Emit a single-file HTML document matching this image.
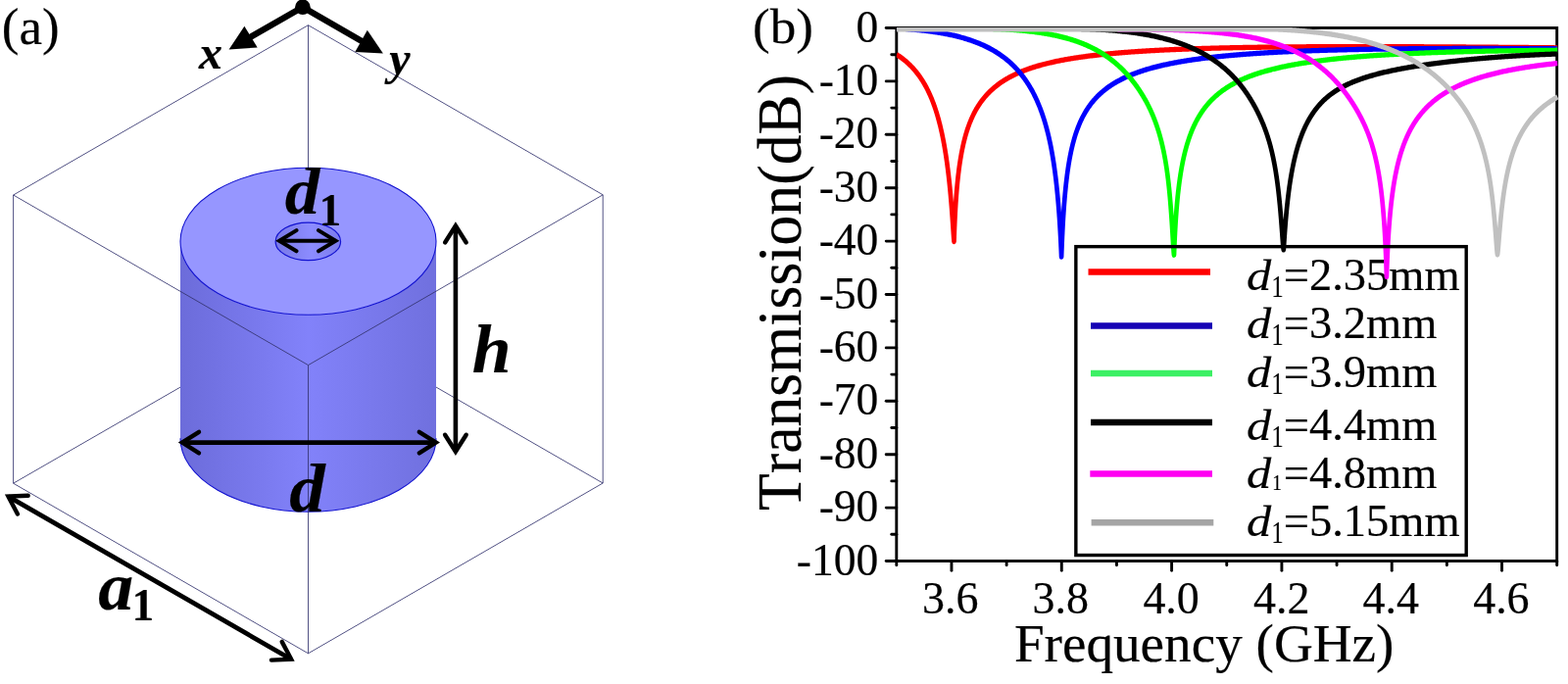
<!DOCTYPE html>
<html lang="en"><head><meta charset="utf-8"><title>Figure</title>
<style>html,body{margin:0;padding:0;background:#fff;}body{width:1600px;height:698px;overflow:hidden;}svg{display:block;}text{font-family:"Liberation Serif","Times New Roman",serif;fill:#000;font-kerning:none;font-variant-ligatures:none;white-space:pre;}.bi{font-weight:bold;font-style:italic;}.b{font-weight:bold;}.i{font-style:italic;}</style></head><body>
<svg width="1600" height="698" viewBox="0 0 1600 698">
<rect width="1600" height="698" fill="#ffffff"/>
<defs>
<linearGradient id="side" x1="0" y1="0" x2="1" y2="0"><stop offset="0" stop-color="#6c6cda"/><stop offset="0.5" stop-color="#8282fa"/><stop offset="1" stop-color="#7070de"/></linearGradient>
<linearGradient id="hole" x1="0" y1="0" x2="1" y2="0"><stop offset="0" stop-color="#7878e6"/><stop offset="0.55" stop-color="#8c8cff"/><stop offset="1" stop-color="#7c7cec"/></linearGradient>
<clipPath id="plotclip"><rect x="914.80" y="28.1" width="675.30" height="544"/></clipPath>
</defs>
<g stroke="#34346f" stroke-width="1.0" stroke-opacity="0.85" fill="none">
<line x1="314.5" y1="25.7" x2="314.5" y2="320.0" />
<line x1="13.6" y1="493.2" x2="314.5" y2="320.0" />
<line x1="615.2" y1="493.0" x2="314.5" y2="320.0" />
</g>
<path d="M184.00,246.30 L184.00,447.20 A130.50,75.00 0 0 0 445.00,447.20 L445.00,246.30 A130.50,75.00 0 0 1 184.00,246.30 Z" fill="url(#side)"/>
<path d="M184.00,447.20 A130.50,75.00 0 0 0 445.00,447.20" fill="none" stroke="#1212d0" stroke-width="1.1"/>
<ellipse cx="314.50" cy="246.30" rx="130.50" ry="75.00" fill="#9696ff" stroke="#1212d0" stroke-width="1.1"/>
<ellipse cx="314.35" cy="246.4" rx="33.2" ry="19.3" fill="url(#hole)" stroke="#1212d0" stroke-width="1.2"/>
<g stroke="#34346f" stroke-width="1.0" stroke-opacity="0.85" fill="none">
<line x1="314.5" y1="25.7" x2="13.6" y2="199.0" />
<line x1="314.5" y1="25.7" x2="615.2" y2="198.8" />
<line x1="13.6" y1="199.0" x2="314.5" y2="372.6" />
<line x1="615.2" y1="198.8" x2="314.5" y2="372.6" />
<line x1="13.6" y1="199.0" x2="13.6" y2="493.2" />
<line x1="615.2" y1="198.8" x2="615.2" y2="493.0" />
<line x1="314.5" y1="372.6" x2="314.5" y2="666.8" />
<line x1="13.6" y1="493.2" x2="314.5" y2="666.8" />
<line x1="615.2" y1="493.0" x2="314.5" y2="666.8" />
</g>
<g stroke="#000" stroke-width="6.3" stroke-linecap="butt">
<line x1="308.9" y1="7.2" x2="254" y2="38.7"/>
<line x1="308.9" y1="7.2" x2="370" y2="42.4"/>
</g>
<circle cx="308.9" cy="7.2" r="7.8" fill="#000"/>
<polygon points="233.6,50.4 249.4,26.8 262.7,48.5" fill="#000"/>
<polygon points="390.9,54.5 374.8,30.8 362.3,53" fill="#000"/>
<line x1="284.97" y1="245.70" x2="342.53" y2="245.70" stroke="#000" stroke-width="4.0" stroke-linecap="butt"/><polyline points="302.50,256.30 284.97,245.70 302.50,235.10" fill="none" stroke="#000" stroke-width="4.0" stroke-linecap="round" stroke-linejoin="miter" stroke-miterlimit="10"/><polyline points="325.00,256.30 342.53,245.70 325.00,235.10" fill="none" stroke="#000" stroke-width="4.0" stroke-linecap="round" stroke-linejoin="miter" stroke-miterlimit="10"/>
<line x1="185.92" y1="451.60" x2="444.88" y2="451.60" stroke="#000" stroke-width="4.6" stroke-linecap="butt"/><polyline points="203.00,462.40 185.92,451.60 203.00,440.80" fill="none" stroke="#000" stroke-width="4.4" stroke-linecap="round" stroke-linejoin="miter" stroke-miterlimit="10"/><polyline points="427.80,462.40 444.88,451.60 427.80,440.80" fill="none" stroke="#000" stroke-width="4.4" stroke-linecap="round" stroke-linejoin="miter" stroke-miterlimit="10"/>
<line x1="464.90" y1="230.42" x2="464.90" y2="460.78" stroke="#000" stroke-width="4.6" stroke-linecap="butt"/><polyline points="454.10,247.50 464.90,230.42 475.70,247.50" fill="none" stroke="#000" stroke-width="4.4" stroke-linecap="round" stroke-linejoin="miter" stroke-miterlimit="10"/><polyline points="454.10,443.70 464.90,460.78 475.70,443.70" fill="none" stroke="#000" stroke-width="4.4" stroke-linecap="round" stroke-linejoin="miter" stroke-miterlimit="10"/>
<line x1="8.47" y1="506.65" x2="297.13" y2="672.75" stroke="#000" stroke-width="4.8" stroke-linecap="butt"/><polyline points="17.89,524.53 8.47,506.65 28.66,505.81" fill="none" stroke="#000" stroke-width="4.4" stroke-linecap="round" stroke-linejoin="miter" stroke-miterlimit="10"/><polyline points="276.94,673.59 297.13,672.75 287.71,654.87" fill="none" stroke="#000" stroke-width="4.4" stroke-linecap="round" stroke-linejoin="miter" stroke-miterlimit="10"/>
<text transform="translate(1.87 44.90)" font-size="53.00" stroke="#000" stroke-width="0.20">(a)</text>
<text transform="translate(202.89 70.40)" font-size="48.00" class="bi" stroke="#000" stroke-width="0.20">x</text>
<text transform="translate(397.20 75.80)" font-size="48.00" class="bi" stroke="#000" stroke-width="0.20">y</text>
<text transform="translate(290.77 218.40) scale(1.0600 1.0000)" font-size="67.00" class="bi" stroke="#000" stroke-width="0.20">d</text>
<text transform="translate(325.83 229.50) scale(0.9600 1.0000)" font-size="46.50" class="b" stroke="#000" stroke-width="0.20">1</text>
<text transform="translate(481.80 379.60) scale(1.0300 1.0000)" font-size="69.50" class="bi" stroke="#000" stroke-width="0.20">h</text>
<text transform="translate(295.14 522.10) scale(1.0500 1.0000)" font-size="69.50" class="bi" stroke="#000" stroke-width="0.20">d</text>
<text transform="translate(100.16 622.00) scale(1.0400 1.0000)" font-size="69.00" class="bi" stroke="#000" stroke-width="0.20">a</text>
<text transform="translate(134.73 632.50) scale(0.9700 1.0000)" font-size="46.00" class="b" stroke="#000" stroke-width="0.20">1</text>
<text transform="translate(767.97 44.45) scale(1.0350 1.0000)" font-size="51.30" stroke="#000" stroke-width="0.20">(b)</text>
<g stroke="#000" fill="none" stroke-linecap="round">
<rect x="914.80" y="28.50" width="673.90" height="544.00" stroke-width="2.9" stroke-linejoin="miter"/>
<line x1="904.20" y1="28.50" x2="914.80" y2="28.50" stroke-width="2.9"/>
<line x1="909.80" y1="55.70" x2="914.80" y2="55.70" stroke-width="2.9"/>
<line x1="904.20" y1="82.90" x2="914.80" y2="82.90" stroke-width="2.9"/>
<line x1="909.80" y1="110.10" x2="914.80" y2="110.10" stroke-width="2.9"/>
<line x1="904.20" y1="137.30" x2="914.80" y2="137.30" stroke-width="2.9"/>
<line x1="909.80" y1="164.50" x2="914.80" y2="164.50" stroke-width="2.9"/>
<line x1="904.20" y1="191.70" x2="914.80" y2="191.70" stroke-width="2.9"/>
<line x1="909.80" y1="218.90" x2="914.80" y2="218.90" stroke-width="2.9"/>
<line x1="904.20" y1="246.10" x2="914.80" y2="246.10" stroke-width="2.9"/>
<line x1="909.80" y1="273.30" x2="914.80" y2="273.30" stroke-width="2.9"/>
<line x1="904.20" y1="300.50" x2="914.80" y2="300.50" stroke-width="2.9"/>
<line x1="909.80" y1="327.70" x2="914.80" y2="327.70" stroke-width="2.9"/>
<line x1="904.20" y1="354.90" x2="914.80" y2="354.90" stroke-width="2.9"/>
<line x1="909.80" y1="382.10" x2="914.80" y2="382.10" stroke-width="2.9"/>
<line x1="904.20" y1="409.30" x2="914.80" y2="409.30" stroke-width="2.9"/>
<line x1="909.80" y1="436.50" x2="914.80" y2="436.50" stroke-width="2.9"/>
<line x1="904.20" y1="463.70" x2="914.80" y2="463.70" stroke-width="2.9"/>
<line x1="909.80" y1="490.90" x2="914.80" y2="490.90" stroke-width="2.9"/>
<line x1="904.20" y1="518.10" x2="914.80" y2="518.10" stroke-width="2.9"/>
<line x1="909.80" y1="545.30" x2="914.80" y2="545.30" stroke-width="2.9"/>
<line x1="904.20" y1="572.50" x2="914.80" y2="572.50" stroke-width="2.9"/>
<line x1="914.80" y1="572.50" x2="914.80" y2="576.70" stroke-width="2.9"/>
<line x1="970.96" y1="572.50" x2="970.96" y2="582.30" stroke-width="2.9"/>
<line x1="1027.12" y1="572.50" x2="1027.12" y2="576.70" stroke-width="2.9"/>
<line x1="1083.28" y1="572.50" x2="1083.28" y2="582.30" stroke-width="2.9"/>
<line x1="1139.43" y1="572.50" x2="1139.43" y2="576.70" stroke-width="2.9"/>
<line x1="1195.59" y1="572.50" x2="1195.59" y2="582.30" stroke-width="2.9"/>
<line x1="1251.75" y1="572.50" x2="1251.75" y2="576.70" stroke-width="2.9"/>
<line x1="1307.91" y1="572.50" x2="1307.91" y2="582.30" stroke-width="2.9"/>
<line x1="1364.07" y1="572.50" x2="1364.07" y2="576.70" stroke-width="2.9"/>
<line x1="1420.22" y1="572.50" x2="1420.22" y2="582.30" stroke-width="2.9"/>
<line x1="1476.38" y1="572.50" x2="1476.38" y2="576.70" stroke-width="2.9"/>
<line x1="1532.54" y1="572.50" x2="1532.54" y2="582.30" stroke-width="2.9"/>
<line x1="1588.70" y1="572.50" x2="1588.70" y2="576.70" stroke-width="2.9"/>
</g>
<text transform="translate(873.56 42.50) scale(1.0120 1.0200)" font-size="45.00" stroke="#000" stroke-width="0.20">0</text>
<text transform="translate(835.63 96.90) scale(1.0120 1.0200)" font-size="45.00" stroke="#000" stroke-width="0.20">-10</text>
<text transform="translate(835.63 151.30) scale(1.0120 1.0200)" font-size="45.00" stroke="#000" stroke-width="0.20">-20</text>
<text transform="translate(835.63 205.70) scale(1.0120 1.0200)" font-size="45.00" stroke="#000" stroke-width="0.20">-30</text>
<text transform="translate(835.63 260.10) scale(1.0120 1.0200)" font-size="45.00" stroke="#000" stroke-width="0.20">-40</text>
<text transform="translate(835.63 314.50) scale(1.0120 1.0200)" font-size="45.00" stroke="#000" stroke-width="0.20">-50</text>
<text transform="translate(835.63 368.90) scale(1.0120 1.0200)" font-size="45.00" stroke="#000" stroke-width="0.20">-60</text>
<text transform="translate(835.63 423.30) scale(1.0120 1.0200)" font-size="45.00" stroke="#000" stroke-width="0.20">-70</text>
<text transform="translate(835.63 477.70) scale(1.0120 1.0200)" font-size="45.00" stroke="#000" stroke-width="0.20">-80</text>
<text transform="translate(835.63 532.10) scale(1.0120 1.0200)" font-size="45.00" stroke="#000" stroke-width="0.20">-90</text>
<text transform="translate(812.86 586.50) scale(1.0120 1.0200)" font-size="45.00" stroke="#000" stroke-width="0.20">-100</text>
<text transform="translate(940.93 626.00) scale(1.0210 1.0500)" font-size="45.00" stroke="#000" stroke-width="0.20">3.6</text>
<text transform="translate(1053.44 626.00) scale(1.0210 1.0500)" font-size="45.00" stroke="#000" stroke-width="0.20">3.8</text>
<text transform="translate(1166.40 626.00) scale(1.0210 1.0500)" font-size="45.00" stroke="#000" stroke-width="0.20">4.0</text>
<text transform="translate(1279.11 626.00) scale(1.0210 1.0500)" font-size="45.00" stroke="#000" stroke-width="0.20">4.2</text>
<text transform="translate(1390.52 626.00) scale(1.0210 1.0500)" font-size="45.00" stroke="#000" stroke-width="0.20">4.4</text>
<text transform="translate(1503.16 626.00) scale(1.0210 1.0500)" font-size="45.00" stroke="#000" stroke-width="0.20">4.6</text>
<text transform="translate(1034.91 675.30) scale(1.0030 1.0000)" font-size="55.00" stroke="#000" stroke-width="0.20">Frequency (GHz)</text>
<text transform="translate(817.10 521.01) rotate(-90) scale(1.0057 1.0200)" font-size="61.30" stroke="#000" stroke-width="0.20">Transmission(dB)</text>
<line x1="1110.5" y1="277.6" x2="1235.0" y2="277.6" stroke="#ff0000" stroke-width="6.5"/>
<text transform="translate(1272.07 295.90) scale(1.1200 1.0000)" font-size="45.00" class="i" stroke="#000" stroke-width="0.20">d</text>
<text transform="translate(1297.47 302.60) scale(0.7800 1.0000)" font-size="31.00" stroke="#000" stroke-width="0.20">1</text>
<text transform="translate(1309.79 295.90) scale(1.0210 1.0000)" font-size="45.50" stroke="#000" stroke-width="0.20">=2.35mm</text>
<line x1="1113.0" y1="332.4" x2="1237.0" y2="332.4" stroke="#1400b4" stroke-width="6.5"/>
<text transform="translate(1272.07 345.30) scale(1.1200 1.0000)" font-size="45.00" class="i" stroke="#000" stroke-width="0.20">d</text>
<text transform="translate(1297.47 352.00) scale(0.7800 1.0000)" font-size="31.00" stroke="#000" stroke-width="0.20">1</text>
<text transform="translate(1309.79 345.30) scale(1.0210 1.0000)" font-size="45.50" stroke="#000" stroke-width="0.20">=3.2mm</text>
<line x1="1113.0" y1="381.0" x2="1237.0" y2="381.0" stroke="#3cf064" stroke-width="6.5"/>
<text transform="translate(1272.07 395.20) scale(1.1200 1.0000)" font-size="45.00" class="i" stroke="#000" stroke-width="0.20">d</text>
<text transform="translate(1297.47 401.90) scale(0.7800 1.0000)" font-size="31.00" stroke="#000" stroke-width="0.20">1</text>
<text transform="translate(1309.79 395.20) scale(1.0210 1.0000)" font-size="45.50" stroke="#000" stroke-width="0.20">=3.9mm</text>
<line x1="1113.0" y1="431.0" x2="1237.0" y2="431.0" stroke="#000000" stroke-width="6.5"/>
<text transform="translate(1272.07 448.90) scale(1.1200 1.0000)" font-size="45.00" class="i" stroke="#000" stroke-width="0.20">d</text>
<text transform="translate(1297.47 455.60) scale(0.7800 1.0000)" font-size="31.00" stroke="#000" stroke-width="0.20">1</text>
<text transform="translate(1309.79 448.90) scale(1.0210 1.0000)" font-size="45.50" stroke="#000" stroke-width="0.20">=4.4mm</text>
<line x1="1112.3" y1="483.5" x2="1237.0" y2="483.5" stroke="#ff00f2" stroke-width="6.5"/>
<text transform="translate(1272.07 497.90) scale(1.1200 1.0000)" font-size="45.00" class="i" stroke="#000" stroke-width="0.20">d</text>
<text transform="translate(1298.31 500.10) scale(0.8000 1.0000)" font-size="24.00" stroke="#000" stroke-width="0.20">1</text>
<text transform="translate(1309.79 497.90) scale(1.0210 1.0000)" font-size="45.50" stroke="#000" stroke-width="0.20">=4.8mm</text>
<line x1="1113.6" y1="533.3" x2="1238.3" y2="533.3" stroke="#a5a5a5" stroke-width="6.5"/>
<text transform="translate(1272.07 547.30) scale(1.1200 1.0000)" font-size="45.00" class="i" stroke="#000" stroke-width="0.20">d</text>
<text transform="translate(1297.47 554.00) scale(0.7800 1.0000)" font-size="31.00" stroke="#000" stroke-width="0.20">1</text>
<text transform="translate(1309.79 547.30) scale(1.0210 1.0000)" font-size="45.50" stroke="#000" stroke-width="0.20">=5.15mm</text>
<g clip-path="url(#plotclip)"><g fill="none" stroke-width="4.7" stroke-linejoin="round" stroke-linecap="butt" transform="scale(1 1.12766)">
<path d="M914.80,49.35 L915.50,49.74 L916.50,50.31 L917.50,50.90 L918.50,51.51 L919.50,52.14 L920.50,52.79 L921.50,53.46 L922.50,54.16 L923.50,54.88 L924.50,55.62 L925.50,56.39 L926.50,57.18 L927.50,58.01 L928.50,58.86 L929.50,59.74 L930.50,60.66 L931.50,61.60 L932.50,62.59 L933.50,63.61 L933.90,64.03 L934.30,64.45 L934.70,64.88 L935.10,65.32 L935.50,65.76 L935.90,66.21 L936.30,66.67 L936.70,67.14 L937.10,67.61 L937.50,68.09 L937.90,68.58 L938.30,69.07 L938.70,69.58 L939.10,70.09 L939.50,70.61 L939.90,71.14 L940.30,71.67 L940.70,72.22 L941.10,72.77 L941.50,73.34 L941.90,73.91 L942.30,74.50 L942.70,75.09 L943.10,75.69 L943.50,76.31 L943.90,76.93 L944.30,77.57 L944.70,78.22 L945.10,78.87 L945.50,79.55 L945.90,80.23 L946.30,80.92 L946.70,81.63 L947.10,82.36 L947.50,83.09 L947.90,83.84 L948.30,84.61 L948.70,85.38 L949.10,86.18 L949.50,86.99 L949.90,87.82 L950.30,88.66 L950.70,89.52 L951.10,90.40 L951.50,91.30 L951.90,92.21 L952.30,93.15 L952.70,94.10 L953.10,95.08 L953.50,96.08 L953.90,97.10 L954.30,98.15 L954.70,99.22 L955.10,100.31 L955.50,101.43 L955.90,102.58 L956.30,103.75 L956.70,104.95 L957.10,106.19 L957.50,107.45 L957.90,108.75 L958.30,110.09 L958.70,111.46 L959.10,112.86 L959.50,114.31 L959.90,115.79 L960.30,117.32 L960.70,118.89 L961.10,120.52 L961.50,122.19 L961.65,122.82 L961.80,123.47 L961.95,124.13 L962.10,124.79 L962.25,125.46 L962.40,126.14 L962.55,126.82 L962.70,127.52 L962.85,128.22 L963.00,128.93 L963.15,129.65 L963.30,130.38 L963.45,131.12 L963.60,131.87 L963.75,132.63 L963.90,133.40 L964.05,134.17 L964.20,134.96 L964.35,135.76 L964.50,136.57 L964.65,137.39 L964.80,138.23 L964.95,139.07 L965.10,139.92 L965.25,140.79 L965.40,141.67 L965.55,142.57 L965.70,143.47 L965.85,144.39 L966.00,145.32 L966.15,146.27 L966.30,147.23 L966.45,148.21 L966.60,149.20 L966.75,150.21 L966.90,151.23 L967.05,152.27 L967.20,153.32 L967.35,154.40 L967.50,155.49 L967.65,156.60 L967.80,157.73 L967.95,158.87 L968.10,160.04 L968.25,161.23 L968.40,162.44 L968.55,163.67 L968.70,164.92 L968.85,166.20 L969.00,167.49 L969.15,168.82 L969.30,170.17 L969.45,171.54 L969.60,172.94 L969.75,174.37 L969.90,175.82 L970.05,177.31 L970.20,178.82 L970.35,180.36 L970.50,181.94 L970.55,182.47 L970.60,183.01 L970.65,183.55 L970.70,184.09 L970.75,184.64 L970.80,185.19 L970.85,185.74 L970.90,186.30 L970.95,186.86 L971.00,187.42 L971.05,187.99 L971.10,188.56 L971.15,189.14 L971.20,189.72 L971.25,190.30 L971.30,190.89 L971.35,191.48 L971.40,192.08 L971.45,192.68 L971.50,193.28 L971.55,193.89 L971.60,194.50 L971.65,195.11 L971.70,195.73 L971.75,196.35 L971.80,196.97 L971.85,197.60 L971.90,198.23 L971.95,198.87 L972.00,199.51 L972.05,200.15 L972.10,200.79 L972.15,201.44 L972.20,202.09 L972.25,202.74 L972.30,203.40 L972.35,204.06 L972.40,204.72 L972.45,205.38 L972.50,206.04 L972.55,206.71 L972.60,207.37 L972.65,208.04 L972.70,208.70 L972.75,209.37 L972.80,210.03 L972.85,210.69 L972.90,211.35 L972.95,212.00 L973.00,212.66 L973.05,213.30 L973.10,213.94 L973.15,214.57 L973.20,215.19 L973.25,215.80 L973.30,216.40 L973.35,216.98 L973.40,217.55 L973.45,218.09 L973.50,218.59 L973.55,217.24 L973.60,215.87 L973.65,214.54 L973.70,213.25 L973.75,211.99 L973.80,210.76 L973.85,209.56 L973.90,208.40 L973.95,207.26 L974.00,206.15 L974.05,205.06 L974.10,204.00 L974.15,202.96 L974.20,201.94 L974.25,200.95 L974.30,199.97 L974.35,199.02 L974.40,198.08 L974.45,197.17 L974.50,196.27 L974.55,195.38 L974.60,194.52 L974.65,193.67 L974.70,192.83 L974.75,192.01 L974.80,191.20 L974.85,190.41 L974.90,189.63 L974.95,188.87 L975.00,188.11 L975.05,187.37 L975.10,186.64 L975.15,185.92 L975.20,185.22 L975.25,184.52 L975.30,183.83 L975.35,183.16 L975.40,182.49 L975.45,181.83 L975.50,181.19 L975.55,180.55 L975.60,179.92 L975.65,179.30 L975.70,178.69 L975.75,178.08 L975.80,177.48 L975.85,176.90 L975.90,176.32 L975.95,175.74 L976.00,175.18 L976.05,174.62 L976.10,174.06 L976.15,173.52 L976.20,172.98 L976.25,172.45 L976.30,171.92 L976.35,171.40 L976.40,170.89 L976.45,170.38 L976.50,169.87 L976.65,168.40 L976.80,166.97 L976.95,165.59 L977.10,164.25 L977.25,162.95 L977.40,161.69 L977.55,160.46 L977.70,159.27 L977.85,158.11 L978.00,156.98 L978.15,155.88 L978.30,154.81 L978.45,153.76 L978.60,152.74 L978.75,151.74 L978.90,150.77 L979.05,149.82 L979.20,148.89 L979.35,147.98 L979.50,147.09 L979.65,146.21 L979.80,145.36 L979.95,144.52 L980.10,143.71 L980.25,142.90 L980.40,142.12 L980.55,141.34 L980.70,140.59 L980.85,139.84 L981.00,139.11 L981.15,138.39 L981.30,137.69 L981.45,137.00 L981.60,136.32 L981.75,135.65 L981.90,134.99 L982.05,134.35 L982.20,133.71 L982.35,133.08 L982.50,132.47 L982.65,131.86 L982.80,131.27 L982.95,130.68 L983.10,130.10 L983.25,129.53 L983.40,128.97 L983.55,128.41 L983.70,127.87 L983.85,127.33 L984.00,126.80 L984.15,126.28 L984.30,125.76 L984.45,125.25 L984.60,124.75 L984.75,124.26 L984.90,123.77 L985.05,123.29 L985.20,122.81 L985.35,122.34 L985.50,121.88 L985.90,120.67 L986.30,119.50 L986.70,118.37 L987.10,117.27 L987.50,116.21 L987.90,115.18 L988.30,114.17 L988.70,113.20 L989.10,112.25 L989.50,111.33 L989.90,110.43 L990.30,109.56 L990.70,108.70 L991.10,107.87 L991.50,107.06 L991.90,106.27 L992.30,105.50 L992.70,104.75 L993.10,104.01 L993.50,103.29 L993.90,102.58 L994.30,101.90 L994.70,101.22 L995.10,100.56 L995.50,99.92 L995.90,99.28 L996.30,98.66 L996.70,98.06 L997.10,97.46 L997.50,96.88 L997.90,96.31 L998.30,95.74 L998.70,95.19 L999.10,94.65 L999.50,94.12 L999.90,93.60 L1000.30,93.09 L1000.70,92.58 L1001.10,92.09 L1001.50,91.60 L1001.90,91.13 L1002.30,90.66 L1002.70,90.20 L1003.10,89.74 L1003.50,89.29 L1003.90,88.85 L1004.30,88.42 L1004.70,88.00 L1005.10,87.58 L1005.50,87.16 L1005.90,86.76 L1006.30,86.36 L1006.70,85.96 L1007.10,85.58 L1007.50,85.19 L1007.90,84.82 L1008.30,84.44 L1008.70,84.08 L1009.10,83.72 L1009.50,83.36 L1009.90,83.01 L1010.30,82.66 L1010.70,82.32 L1011.10,81.99 L1011.50,81.65 L1011.90,81.33 L1012.30,81.00 L1012.70,80.68 L1013.10,80.37 L1013.50,80.06 L1014.50,79.30 L1015.50,78.56 L1016.50,77.85 L1017.50,77.16 L1018.50,76.49 L1019.50,75.83 L1020.50,75.20 L1021.50,74.58 L1022.50,73.99 L1023.50,73.40 L1024.50,72.84 L1025.50,72.29 L1026.50,71.75 L1027.50,71.23 L1028.50,70.72 L1029.50,70.22 L1030.50,69.74 L1031.50,69.26 L1032.50,68.80 L1033.50,68.35 L1034.50,67.91 L1035.50,67.48 L1036.50,67.06 L1037.50,66.65 L1038.50,66.25 L1039.50,65.86 L1040.50,65.48 L1041.50,65.10 L1042.50,64.74 L1043.50,64.38 L1044.50,64.03 L1045.50,63.68 L1046.50,63.35 L1047.50,63.02 L1048.50,62.70 L1049.50,62.38 L1050.50,62.07 L1051.50,61.77 L1052.50,61.47 L1053.50,61.18 L1054.50,60.89 L1055.50,60.61 L1056.50,60.33 L1057.50,60.06 L1058.50,59.80 L1059.50,59.54 L1060.50,59.28 L1061.50,59.03 L1062.50,58.79 L1063.50,58.55 L1064.50,58.31 L1065.50,58.08 L1066.50,57.85 L1067.50,57.62 L1068.50,57.40 L1069.50,57.18 L1070.50,56.97 L1071.50,56.76 L1072.50,56.56 L1073.50,56.35 L1074.50,56.16 L1075.50,55.96 L1076.50,55.77 L1077.50,55.58 L1078.50,55.39 L1079.50,55.21 L1080.50,55.03 L1081.50,54.86 L1082.50,54.68 L1083.50,54.51 L1084.50,54.34 L1085.50,54.18 L1086.50,54.01 L1087.50,53.85 L1088.50,53.69 L1089.50,53.54 L1090.50,53.39 L1091.50,53.23 L1092.50,53.09 L1093.50,52.94 L1094.50,52.80 L1095.50,52.65 L1096.50,52.51 L1097.50,52.38 L1098.50,52.24 L1099.50,52.11 L1100.50,51.97 L1101.50,51.84 L1102.50,51.72 L1103.50,51.59 L1104.50,51.47 L1105.50,51.34 L1106.50,51.22 L1107.50,51.10 L1108.50,50.99 L1109.50,50.87 L1110.50,50.76 L1111.50,50.64 L1112.50,50.53 L1113.50,50.42 L1114.50,50.32 L1115.50,50.21 L1116.50,50.10 L1117.50,50.00 L1118.50,49.90 L1119.50,49.80 L1120.50,49.70 L1121.50,49.60 L1122.50,49.50 L1123.50,49.41 L1124.50,49.31 L1125.50,49.22 L1126.50,49.13 L1127.50,49.04 L1128.50,48.95 L1129.50,48.86 L1130.50,48.77 L1131.50,48.69 L1132.50,48.60 L1133.50,48.52 L1134.50,48.44 L1135.50,48.35 L1136.50,48.27 L1137.50,48.19 L1138.50,48.12 L1139.50,48.04 L1140.50,47.96 L1141.50,47.89 L1142.50,47.81 L1143.50,47.74 L1144.50,47.66 L1145.50,47.59 L1146.50,47.52 L1147.50,47.45 L1148.50,47.38 L1149.50,47.31 L1150.50,47.25 L1151.50,47.18 L1152.50,47.11 L1153.50,47.05 L1154.50,46.98 L1155.50,46.92 L1156.50,46.86 L1157.50,46.80 L1158.50,46.74 L1159.50,46.67 L1160.50,46.62 L1161.50,46.56 L1162.50,46.50 L1163.50,46.44 L1164.50,46.38 L1165.50,46.33 L1166.50,46.27 L1167.50,46.22 L1168.50,46.16 L1169.50,46.11 L1170.50,46.06 L1171.50,46.00 L1172.50,45.95 L1173.50,45.90 L1174.50,45.85 L1175.50,45.80 L1176.50,45.75 L1177.50,45.70 L1178.50,45.66 L1179.50,45.61 L1180.50,45.56 L1181.50,45.51 L1182.50,45.47 L1183.50,45.42 L1184.50,45.38 L1185.50,45.33 L1186.50,45.29 L1187.50,45.25 L1188.50,45.20 L1189.50,45.16 L1190.50,45.12 L1191.50,45.08 L1192.50,45.04 L1193.50,45.00 L1194.50,44.96 L1195.50,44.92 L1196.50,44.88 L1197.50,44.84 L1198.50,44.80 L1199.50,44.77 L1200.50,44.73 L1201.50,44.69 L1202.50,44.66 L1203.50,44.62 L1204.50,44.59 L1205.50,44.55 L1206.50,44.52 L1207.50,44.48 L1208.50,44.45 L1209.50,44.42 L1210.50,44.38 L1211.50,44.35 L1212.50,44.32 L1213.50,44.29 L1214.50,44.25 L1215.50,44.22 L1216.50,44.19 L1217.50,44.16 L1218.50,44.13 L1219.50,44.10 L1220.50,44.07 L1221.50,44.04 L1222.50,44.02 L1223.50,43.99 L1224.50,43.96 L1225.50,43.93 L1226.50,43.91 L1227.50,43.88 L1228.50,43.85 L1229.50,43.83 L1230.50,43.80 L1231.50,43.77 L1232.50,43.75 L1233.50,43.72 L1234.50,43.70 L1235.50,43.68 L1236.50,43.65 L1237.50,43.63 L1238.50,43.60 L1239.50,43.58 L1240.50,43.56 L1241.50,43.54 L1242.50,43.51 L1243.50,43.49 L1244.50,43.47 L1245.50,43.45 L1246.50,43.43 L1247.50,43.40 L1248.50,43.38 L1249.50,43.36 L1250.50,43.34 L1251.50,43.32 L1252.50,43.30 L1253.50,43.28 L1254.50,43.27 L1255.50,43.25 L1256.50,43.23 L1257.50,43.21 L1258.50,43.19 L1259.50,43.17 L1260.50,43.15 L1261.50,43.14 L1262.50,43.12 L1263.50,43.10 L1264.50,43.09 L1265.50,43.07 L1266.50,43.05 L1267.50,43.04 L1268.50,43.02 L1269.50,43.00 L1270.50,42.99 L1271.50,42.97 L1272.50,42.96 L1273.50,42.94 L1274.50,42.93 L1275.50,42.91 L1276.50,42.90 L1277.50,42.89 L1278.50,42.87 L1279.50,42.86 L1280.50,42.84 L1281.50,42.83 L1282.50,42.82 L1283.50,42.80 L1284.50,42.79 L1285.50,42.78 L1286.50,42.77 L1287.50,42.75 L1288.50,42.74 L1289.50,42.73 L1290.50,42.72 L1291.50,42.71 L1292.50,42.70 L1293.50,42.68 L1294.50,42.67 L1295.50,42.66 L1296.50,42.65 L1297.50,42.64 L1298.50,42.63 L1299.50,42.62 L1300.50,42.61 L1301.50,42.60 L1302.50,42.59 L1303.50,42.58 L1304.50,42.57 L1305.50,42.56 L1306.50,42.55 L1307.50,42.54 L1308.50,42.54 L1309.50,42.53 L1310.50,42.52 L1311.50,42.51 L1312.50,42.50 L1313.50,42.49 L1314.50,42.49 L1315.50,42.48 L1316.50,42.47 L1317.50,42.46 L1318.50,42.46 L1319.50,42.45 L1320.50,42.44 L1321.50,42.43 L1322.50,42.43 L1323.50,42.42 L1324.50,42.41 L1325.50,42.41 L1326.50,42.40 L1327.50,42.39 L1328.50,42.39 L1329.50,42.38 L1330.50,42.38 L1331.50,42.37 L1332.50,42.37 L1333.50,42.36 L1334.50,42.35 L1335.50,42.35 L1336.50,42.34 L1337.50,42.34 L1338.50,42.33 L1339.50,42.33 L1340.50,42.33 L1341.50,42.32 L1342.50,42.32 L1343.50,42.31 L1344.50,42.31 L1345.50,42.30 L1346.50,42.30 L1347.50,42.30 L1348.50,42.29 L1349.50,42.29 L1350.50,42.29 L1351.50,42.28 L1352.50,42.28 L1353.50,42.28 L1354.50,42.27 L1355.50,42.27 L1356.50,42.27 L1357.50,42.26 L1358.50,42.26 L1359.50,42.26 L1360.50,42.26 L1361.50,42.25 L1362.50,42.25 L1363.50,42.25 L1364.50,42.25 L1365.50,42.24 L1366.50,42.24 L1367.50,42.24 L1368.50,42.24 L1369.50,42.24 L1370.50,42.24 L1371.50,42.23 L1372.50,42.23 L1373.50,42.23 L1374.50,42.23 L1375.50,42.23 L1376.50,42.23 L1377.50,42.23 L1378.50,42.23 L1379.50,42.23 L1380.50,42.23 L1381.50,42.22 L1382.50,42.22 L1383.50,42.22 L1384.50,42.22 L1385.50,42.22 L1386.50,42.22 L1387.50,42.22 L1388.50,42.22 L1389.50,42.22 L1390.50,42.22 L1391.50,42.22 L1392.50,42.22 L1393.50,42.22 L1394.50,42.22 L1395.50,42.23 L1396.50,42.23 L1397.50,42.23 L1398.50,42.23 L1399.50,42.23 L1400.50,42.23 L1401.50,42.23 L1402.50,42.23 L1403.50,42.23 L1404.50,42.23 L1405.50,42.23 L1406.50,42.24 L1407.50,42.24 L1408.50,42.24 L1409.50,42.24 L1410.50,42.24 L1411.50,42.24 L1412.50,42.25 L1413.50,42.25 L1414.50,42.25 L1415.50,42.25 L1416.50,42.25 L1417.50,42.25 L1418.50,42.26 L1419.50,42.26 L1420.50,42.26 L1421.50,42.26 L1422.50,42.27 L1423.50,42.27 L1424.50,42.27 L1425.50,42.27 L1426.50,42.28 L1427.50,42.28 L1428.50,42.28 L1429.50,42.28 L1430.50,42.29 L1431.50,42.29 L1432.50,42.29 L1433.50,42.30 L1434.50,42.30 L1435.50,42.30 L1436.50,42.31 L1437.50,42.31 L1438.50,42.31 L1439.50,42.32 L1440.50,42.32 L1441.50,42.32 L1442.50,42.33 L1443.50,42.33 L1444.50,42.33 L1445.50,42.34 L1446.50,42.34 L1447.50,42.34 L1448.50,42.35 L1449.50,42.35 L1450.50,42.36 L1451.50,42.36 L1452.50,42.36 L1453.50,42.37 L1454.50,42.37 L1455.50,42.38 L1456.50,42.38 L1457.50,42.39 L1458.50,42.39 L1459.50,42.39 L1460.50,42.40 L1461.50,42.40 L1462.50,42.41 L1463.50,42.41 L1464.50,42.42 L1465.50,42.42 L1466.50,42.43 L1467.50,42.43 L1468.50,42.44 L1469.50,42.44 L1470.50,42.45 L1471.50,42.45 L1472.50,42.46 L1473.50,42.46 L1474.50,42.47 L1475.50,42.47 L1476.50,42.48 L1477.50,42.48 L1478.50,42.49 L1479.50,42.49 L1480.50,42.50 L1481.50,42.50 L1482.50,42.51 L1483.50,42.51 L1484.50,42.52 L1485.50,42.52 L1486.50,42.53 L1487.50,42.54 L1488.50,42.54 L1489.50,42.55 L1490.50,42.55 L1491.50,42.56 L1492.50,42.56 L1493.50,42.57 L1494.50,42.58 L1495.50,42.58 L1496.50,42.59 L1497.50,42.59 L1498.50,42.60 L1499.50,42.61 L1500.50,42.61 L1501.50,42.62 L1502.50,42.62 L1503.50,42.63 L1504.50,42.64 L1505.50,42.64 L1506.50,42.65 L1507.50,42.66 L1508.50,42.66 L1509.50,42.67 L1510.50,42.68 L1511.50,42.68 L1512.50,42.69 L1513.50,42.70 L1514.50,42.70 L1515.50,42.71 L1516.50,42.72 L1517.50,42.72 L1518.50,42.73 L1519.50,42.74 L1520.50,42.74 L1521.50,42.75 L1522.50,42.76 L1523.50,42.76 L1524.50,42.77 L1525.50,42.78 L1526.50,42.78 L1527.50,42.79 L1528.50,42.80 L1529.50,42.81 L1530.50,42.81 L1531.50,42.82 L1532.50,42.83 L1533.50,42.83 L1534.50,42.84 L1535.50,42.85 L1536.50,42.86 L1537.50,42.86 L1538.50,42.87 L1539.50,42.88 L1540.50,42.89 L1541.50,42.89 L1542.50,42.90 L1543.50,42.91 L1544.50,42.92 L1545.50,42.92 L1546.50,42.93 L1547.50,42.94 L1548.50,42.95 L1549.50,42.95 L1550.50,42.96 L1551.50,42.97 L1552.50,42.98 L1553.50,42.99 L1554.50,42.99 L1555.50,43.00 L1556.50,43.01 L1557.50,43.02 L1558.50,43.02 L1559.50,43.03 L1560.50,43.04 L1561.50,43.05 L1562.50,43.06 L1563.50,43.06 L1564.50,43.07 L1565.50,43.08 L1566.50,43.09 L1567.50,43.10 L1568.50,43.11 L1569.50,43.11 L1570.50,43.12 L1571.50,43.13 L1572.50,43.14 L1573.50,43.15 L1574.50,43.15 L1575.50,43.16 L1576.50,43.17 L1577.50,43.18 L1578.50,43.19 L1579.50,43.20 L1580.50,43.21 L1581.50,43.21 L1582.50,43.22 L1583.50,43.23 L1584.50,43.24 L1585.50,43.25 L1586.50,43.26 L1587.50,43.26 L1588.50,43.27 L1589.30,43.28" stroke="#ff0000"/>
<path d="M914.80,25.76 L915.10,25.76 L916.10,25.76 L917.10,25.76 L918.10,25.76 L919.10,25.76 L920.10,25.76 L921.10,25.76 L922.10,25.76 L923.10,25.76 L924.10,25.76 L925.10,26.27 L926.10,26.33 L927.10,26.40 L928.10,26.46 L929.10,26.52 L930.10,26.59 L931.10,26.66 L932.10,26.73 L933.10,26.81 L934.10,26.88 L935.10,26.96 L936.10,27.04 L937.10,27.13 L938.10,27.21 L939.10,27.30 L940.10,27.39 L941.10,27.49 L942.10,27.58 L943.10,27.68 L944.10,27.78 L945.10,27.89 L946.10,27.99 L947.10,28.10 L948.10,28.21 L949.10,28.33 L950.10,28.45 L951.10,28.57 L952.10,28.69 L953.10,28.82 L954.10,28.95 L955.10,29.08 L956.10,29.22 L957.10,29.36 L958.10,29.50 L959.10,29.65 L960.10,29.80 L961.10,29.95 L962.10,30.11 L963.10,30.27 L964.10,30.44 L965.10,30.61 L966.10,30.78 L967.10,30.96 L968.10,31.14 L969.10,31.32 L970.10,31.51 L971.10,31.71 L972.10,31.91 L973.10,32.11 L974.10,32.32 L975.10,32.53 L976.10,32.74 L977.10,32.97 L978.10,33.19 L979.10,33.42 L980.10,33.66 L981.10,33.90 L982.10,34.15 L983.10,34.40 L984.10,34.66 L985.10,34.93 L986.10,35.20 L987.10,35.48 L988.10,35.76 L989.10,36.05 L990.10,36.35 L991.10,36.65 L992.10,36.96 L993.10,37.27 L994.10,37.60 L995.10,37.93 L996.10,38.27 L997.10,38.61 L998.10,38.97 L999.10,39.33 L1000.10,39.70 L1001.10,40.08 L1002.10,40.47 L1003.10,40.86 L1004.10,41.27 L1005.10,41.68 L1006.10,42.11 L1007.10,42.54 L1008.10,42.99 L1009.10,43.44 L1010.10,43.91 L1011.10,44.39 L1012.10,44.88 L1013.10,45.38 L1014.10,45.89 L1015.10,46.42 L1016.10,46.96 L1017.10,47.51 L1018.10,48.07 L1019.10,48.65 L1020.10,49.25 L1021.10,49.86 L1022.10,50.48 L1023.10,51.12 L1024.10,51.78 L1025.10,52.45 L1026.10,53.15 L1027.10,53.86 L1028.10,54.59 L1029.10,55.34 L1030.10,56.11 L1031.10,56.90 L1032.10,57.71 L1033.10,58.55 L1034.10,59.41 L1035.10,60.30 L1036.10,61.21 L1037.10,62.15 L1038.10,63.11 L1039.10,64.11 L1040.10,65.14 L1041.10,66.19 L1042.10,67.29 L1043.10,68.41 L1043.50,68.87 L1043.90,69.34 L1044.30,69.81 L1044.70,70.29 L1045.10,70.78 L1045.50,71.27 L1045.90,71.77 L1046.30,72.27 L1046.70,72.78 L1047.10,73.30 L1047.50,73.83 L1047.90,74.36 L1048.30,74.90 L1048.70,75.45 L1049.10,76.00 L1049.50,76.57 L1049.90,77.14 L1050.30,77.72 L1050.70,78.31 L1051.10,78.91 L1051.50,79.51 L1051.90,80.13 L1052.30,80.75 L1052.70,81.38 L1053.10,82.03 L1053.50,82.68 L1053.90,83.34 L1054.30,84.02 L1054.70,84.70 L1055.10,85.39 L1055.50,86.10 L1055.90,86.82 L1056.30,87.55 L1056.70,88.29 L1057.10,89.04 L1057.50,89.81 L1057.90,90.59 L1058.30,91.38 L1058.70,92.19 L1059.10,93.01 L1059.50,93.84 L1059.90,94.69 L1060.30,95.56 L1060.70,96.44 L1061.10,97.34 L1061.50,98.26 L1061.90,99.19 L1062.30,100.15 L1062.70,101.12 L1063.10,102.11 L1063.50,103.12 L1063.90,104.16 L1064.30,105.21 L1064.70,106.29 L1065.10,107.39 L1065.50,108.52 L1065.90,109.67 L1066.30,110.85 L1066.70,112.06 L1067.10,113.30 L1067.50,114.56 L1067.90,115.86 L1068.30,117.19 L1068.70,118.56 L1069.10,119.96 L1069.50,121.40 L1069.90,122.88 L1070.30,124.41 L1070.70,125.97 L1071.10,127.58 L1071.25,128.20 L1071.40,128.83 L1071.55,129.46 L1071.70,130.10 L1071.85,130.74 L1072.00,131.40 L1072.15,132.06 L1072.30,132.73 L1072.45,133.41 L1072.60,134.09 L1072.75,134.79 L1072.90,135.49 L1073.05,136.20 L1073.20,136.93 L1073.35,137.66 L1073.50,138.40 L1073.65,139.15 L1073.80,139.91 L1073.95,140.68 L1074.10,141.46 L1074.25,142.25 L1074.40,143.06 L1074.55,143.87 L1074.70,144.70 L1074.85,145.54 L1075.00,146.39 L1075.15,147.25 L1075.30,148.13 L1075.45,149.02 L1075.60,149.92 L1075.75,150.84 L1075.90,151.77 L1076.05,152.72 L1076.20,153.68 L1076.35,154.66 L1076.50,155.66 L1076.65,156.67 L1076.80,157.70 L1076.95,158.75 L1077.10,159.82 L1077.25,160.90 L1077.40,162.01 L1077.55,163.14 L1077.70,164.29 L1077.85,165.46 L1078.00,166.65 L1078.15,167.87 L1078.30,169.11 L1078.45,170.38 L1078.60,171.68 L1078.75,173.00 L1078.90,174.35 L1079.05,175.74 L1079.20,177.15 L1079.35,178.60 L1079.50,180.08 L1079.65,181.60 L1079.80,183.16 L1079.95,184.75 L1080.10,186.39 L1080.15,186.95 L1080.20,187.51 L1080.25,188.07 L1080.30,188.64 L1080.35,189.22 L1080.40,189.80 L1080.45,190.38 L1080.50,190.98 L1080.55,191.57 L1080.60,192.18 L1080.65,192.78 L1080.70,193.40 L1080.75,194.02 L1080.80,194.64 L1080.85,195.28 L1080.90,195.92 L1080.95,196.56 L1081.00,197.21 L1081.05,197.87 L1081.10,198.53 L1081.15,199.21 L1081.20,199.88 L1081.25,200.57 L1081.30,201.26 L1081.35,201.96 L1081.40,202.67 L1081.45,203.39 L1081.50,204.11 L1081.55,204.84 L1081.60,205.58 L1081.65,206.33 L1081.70,207.09 L1081.75,207.85 L1081.80,208.63 L1081.85,209.41 L1081.90,210.20 L1081.95,211.00 L1082.00,211.81 L1082.05,212.63 L1082.10,213.46 L1082.15,214.30 L1082.20,215.16 L1082.25,216.02 L1082.30,216.89 L1082.35,217.77 L1082.40,218.66 L1082.45,219.57 L1082.50,220.49 L1082.55,221.41 L1082.60,222.35 L1082.65,223.31 L1082.70,224.27 L1082.75,225.24 L1082.80,226.23 L1082.85,227.23 L1082.90,228.24 L1082.95,229.27 L1083.00,230.30 L1083.05,231.35 L1083.10,232.43 L1083.15,231.20 L1083.20,229.98 L1083.25,228.78 L1083.30,227.60 L1083.35,226.43 L1083.40,225.29 L1083.45,224.16 L1083.50,223.06 L1083.55,221.97 L1083.60,220.90 L1083.65,219.84 L1083.70,218.80 L1083.75,217.78 L1083.80,216.77 L1083.85,215.78 L1083.90,214.81 L1083.95,213.85 L1084.00,212.90 L1084.05,211.97 L1084.10,211.05 L1084.15,210.15 L1084.20,209.25 L1084.25,208.38 L1084.30,207.51 L1084.35,206.66 L1084.40,205.81 L1084.45,204.98 L1084.50,204.16 L1084.55,203.36 L1084.60,202.56 L1084.65,201.77 L1084.70,201.00 L1084.75,200.23 L1084.80,199.47 L1084.85,198.73 L1084.90,197.99 L1084.95,197.26 L1085.00,196.55 L1085.05,195.84 L1085.10,195.13 L1085.15,194.44 L1085.20,193.76 L1085.25,193.08 L1085.30,192.42 L1085.35,191.76 L1085.40,191.10 L1085.45,190.46 L1085.50,189.82 L1085.55,189.19 L1085.60,188.57 L1085.65,187.95 L1085.70,187.34 L1085.75,186.74 L1085.80,186.14 L1085.85,185.55 L1085.90,184.97 L1085.95,184.39 L1086.00,183.82 L1086.05,183.26 L1086.10,182.70 L1086.25,181.06 L1086.40,179.46 L1086.55,177.92 L1086.70,176.42 L1086.85,174.96 L1087.00,173.54 L1087.15,172.15 L1087.30,170.81 L1087.45,169.50 L1087.60,168.23 L1087.75,166.98 L1087.90,165.77 L1088.05,164.59 L1088.20,163.43 L1088.35,162.30 L1088.50,161.20 L1088.65,160.12 L1088.80,159.07 L1088.95,158.04 L1089.10,157.03 L1089.25,156.05 L1089.40,155.08 L1089.55,154.14 L1089.70,153.22 L1089.85,152.31 L1090.00,151.42 L1090.15,150.55 L1090.30,149.70 L1090.45,148.86 L1090.60,148.04 L1090.75,147.23 L1090.90,146.44 L1091.05,145.67 L1091.20,144.91 L1091.35,144.16 L1091.50,143.42 L1091.65,142.70 L1091.80,141.99 L1091.95,141.30 L1092.10,140.61 L1092.25,139.94 L1092.40,139.27 L1092.55,138.62 L1092.70,137.98 L1092.85,137.35 L1093.00,136.73 L1093.15,136.12 L1093.30,135.52 L1093.45,134.92 L1093.60,134.34 L1093.75,133.76 L1093.90,133.20 L1094.05,132.64 L1094.20,132.09 L1094.35,131.54 L1094.50,131.01 L1094.65,130.48 L1094.80,129.96 L1094.95,129.45 L1095.10,128.94 L1095.50,127.62 L1095.90,126.34 L1096.30,125.11 L1096.70,123.92 L1097.10,122.77 L1097.50,121.65 L1097.90,120.56 L1098.30,119.51 L1098.70,118.49 L1099.10,117.50 L1099.50,116.53 L1099.90,115.59 L1100.30,114.68 L1100.70,113.79 L1101.10,112.92 L1101.50,112.07 L1101.90,111.25 L1102.30,110.45 L1102.70,109.66 L1103.10,108.89 L1103.50,108.14 L1103.90,107.41 L1104.30,106.70 L1104.70,106.00 L1105.10,105.31 L1105.50,104.64 L1105.90,103.98 L1106.30,103.34 L1106.70,102.71 L1107.10,102.09 L1107.50,101.49 L1107.90,100.90 L1108.30,100.32 L1108.70,99.74 L1109.10,99.19 L1109.50,98.64 L1109.90,98.10 L1110.30,97.57 L1110.70,97.05 L1111.10,96.54 L1111.50,96.04 L1111.90,95.54 L1112.30,95.06 L1112.70,94.58 L1113.10,94.11 L1113.50,93.65 L1113.90,93.20 L1114.30,92.75 L1114.70,92.31 L1115.10,91.88 L1115.50,91.46 L1115.90,91.04 L1116.30,90.63 L1116.70,90.22 L1117.10,89.82 L1117.50,89.43 L1117.90,89.04 L1118.30,88.66 L1118.70,88.28 L1119.10,87.91 L1119.50,87.54 L1119.90,87.18 L1120.30,86.82 L1120.70,86.47 L1121.10,86.13 L1121.50,85.79 L1121.90,85.45 L1122.30,85.12 L1122.70,84.79 L1123.10,84.46 L1124.10,83.67 L1125.10,82.91 L1126.10,82.17 L1127.10,81.45 L1128.10,80.75 L1129.10,80.07 L1130.10,79.41 L1131.10,78.77 L1132.10,78.15 L1133.10,77.55 L1134.10,76.96 L1135.10,76.39 L1136.10,75.83 L1137.10,75.29 L1138.10,74.76 L1139.10,74.24 L1140.10,73.74 L1141.10,73.25 L1142.10,72.77 L1143.10,72.30 L1144.10,71.84 L1145.10,71.40 L1146.10,70.96 L1147.10,70.53 L1148.10,70.12 L1149.10,69.71 L1150.10,69.31 L1151.10,68.92 L1152.10,68.54 L1153.10,68.16 L1154.10,67.80 L1155.10,67.44 L1156.10,67.09 L1157.10,66.75 L1158.10,66.41 L1159.10,66.08 L1160.10,65.75 L1161.10,65.44 L1162.10,65.13 L1163.10,64.82 L1164.10,64.52 L1165.10,64.23 L1166.10,63.94 L1167.10,63.65 L1168.10,63.38 L1169.10,63.10 L1170.10,62.83 L1171.10,62.57 L1172.10,62.31 L1173.10,62.06 L1174.10,61.81 L1175.10,61.56 L1176.10,61.32 L1177.10,61.08 L1178.10,60.85 L1179.10,60.62 L1180.10,60.39 L1181.10,60.17 L1182.10,59.95 L1183.10,59.74 L1184.10,59.53 L1185.10,59.32 L1186.10,59.11 L1187.10,58.91 L1188.10,58.71 L1189.10,58.52 L1190.10,58.33 L1191.10,58.14 L1192.10,57.95 L1193.10,57.77 L1194.10,57.59 L1195.10,57.41 L1196.10,57.23 L1197.10,57.06 L1198.10,56.89 L1199.10,56.72 L1200.10,56.56 L1201.10,56.39 L1202.10,56.23 L1203.10,56.07 L1204.10,55.92 L1205.10,55.76 L1206.10,55.61 L1207.10,55.46 L1208.10,55.32 L1209.10,55.17 L1210.10,55.03 L1211.10,54.89 L1212.10,54.75 L1213.10,54.61 L1214.10,54.47 L1215.10,54.34 L1216.10,54.21 L1217.10,54.08 L1218.10,53.95 L1219.10,53.82 L1220.10,53.70 L1221.10,53.57 L1222.10,53.45 L1223.10,53.33 L1224.10,53.21 L1225.10,53.10 L1226.10,52.98 L1227.10,52.87 L1228.10,52.75 L1229.10,52.64 L1230.10,52.53 L1231.10,52.42 L1232.10,52.32 L1233.10,52.21 L1234.10,52.11 L1235.10,52.00 L1236.10,51.90 L1237.10,51.80 L1238.10,51.70 L1239.10,51.60 L1240.10,51.51 L1241.10,51.41 L1242.10,51.32 L1243.10,51.22 L1244.10,51.13 L1245.10,51.04 L1246.10,50.95 L1247.10,50.86 L1248.10,50.77 L1249.10,50.69 L1250.10,50.60 L1251.10,50.52 L1252.10,50.43 L1253.10,50.35 L1254.10,50.27 L1255.10,50.19 L1256.10,50.11 L1257.10,50.03 L1258.10,49.95 L1259.10,49.88 L1260.10,49.80 L1261.10,49.73 L1262.10,49.65 L1263.10,49.58 L1264.10,49.51 L1265.10,49.43 L1266.10,49.36 L1267.10,49.29 L1268.10,49.22 L1269.10,49.16 L1270.10,49.09 L1271.10,49.02 L1272.10,48.95 L1273.10,48.89 L1274.10,48.82 L1275.10,48.76 L1276.10,48.70 L1277.10,48.64 L1278.10,48.57 L1279.10,48.51 L1280.10,48.45 L1281.10,48.39 L1282.10,48.33 L1283.10,48.28 L1284.10,48.22 L1285.10,48.16 L1286.10,48.11 L1287.10,48.05 L1288.10,47.99 L1289.10,47.94 L1290.10,47.89 L1291.10,47.83 L1292.10,47.78 L1293.10,47.73 L1294.10,47.68 L1295.10,47.63 L1296.10,47.58 L1297.10,47.53 L1298.10,47.48 L1299.10,47.43 L1300.10,47.38 L1301.10,47.33 L1302.10,47.29 L1303.10,47.24 L1304.10,47.19 L1305.10,47.15 L1306.10,47.10 L1307.10,47.06 L1308.10,47.02 L1309.10,46.97 L1310.10,46.93 L1311.10,46.89 L1312.10,46.84 L1313.10,46.80 L1314.10,46.76 L1315.10,46.72 L1316.10,46.68 L1317.10,46.64 L1318.10,46.60 L1319.10,46.56 L1320.10,46.53 L1321.10,46.49 L1322.10,46.45 L1323.10,46.41 L1324.10,46.38 L1325.10,46.34 L1326.10,46.30 L1327.10,46.27 L1328.10,46.23 L1329.10,46.20 L1330.10,46.17 L1331.10,46.13 L1332.10,46.10 L1333.10,46.06 L1334.10,46.03 L1335.10,46.00 L1336.10,45.97 L1337.10,45.94 L1338.10,45.90 L1339.10,45.87 L1340.10,45.84 L1341.10,45.81 L1342.10,45.78 L1343.10,45.75 L1344.10,45.72 L1345.10,45.70 L1346.10,45.67 L1347.10,45.64 L1348.10,45.61 L1349.10,45.58 L1350.10,45.56 L1351.10,45.53 L1352.10,45.50 L1353.10,45.48 L1354.10,45.45 L1355.10,45.42 L1356.10,45.40 L1357.10,45.37 L1358.10,45.35 L1359.10,45.33 L1360.10,45.30 L1361.10,45.28 L1362.10,45.25 L1363.10,45.23 L1364.10,45.21 L1365.10,45.18 L1366.10,45.16 L1367.10,45.14 L1368.10,45.12 L1369.10,45.10 L1370.10,45.07 L1371.10,45.05 L1372.10,45.03 L1373.10,45.01 L1374.10,44.99 L1375.10,44.97 L1376.10,44.95 L1377.10,44.93 L1378.10,44.91 L1379.10,44.89 L1380.10,44.87 L1381.10,44.86 L1382.10,44.84 L1383.10,44.82 L1384.10,44.80 L1385.10,44.78 L1386.10,44.77 L1387.10,44.75 L1388.10,44.73 L1389.10,44.72 L1390.10,44.70 L1391.10,44.68 L1392.10,44.67 L1393.10,44.65 L1394.10,44.63 L1395.10,44.62 L1396.10,44.60 L1397.10,44.59 L1398.10,44.57 L1399.10,44.56 L1400.10,44.54 L1401.10,44.53 L1402.10,44.52 L1403.10,44.50 L1404.10,44.49 L1405.10,44.47 L1406.10,44.46 L1407.10,44.45 L1408.10,44.44 L1409.10,44.42 L1410.10,44.41 L1411.10,44.40 L1412.10,44.39 L1413.10,44.37 L1414.10,44.36 L1415.10,44.35 L1416.10,44.34 L1417.10,44.33 L1418.10,44.32 L1419.10,44.31 L1420.10,44.29 L1421.10,44.28 L1422.10,44.27 L1423.10,44.26 L1424.10,44.25 L1425.10,44.24 L1426.10,44.23 L1427.10,44.22 L1428.10,44.21 L1429.10,44.21 L1430.10,44.20 L1431.10,44.19 L1432.10,44.18 L1433.10,44.17 L1434.10,44.16 L1435.10,44.15 L1436.10,44.14 L1437.10,44.14 L1438.10,44.13 L1439.10,44.12 L1440.10,44.11 L1441.10,44.11 L1442.10,44.10 L1443.10,44.09 L1444.10,44.08 L1445.10,44.08 L1446.10,44.07 L1447.10,44.06 L1448.10,44.06 L1449.10,44.05 L1450.10,44.05 L1451.10,44.04 L1452.10,44.03 L1453.10,44.03 L1454.10,44.02 L1455.10,44.02 L1456.10,44.01 L1457.10,44.01 L1458.10,44.00 L1459.10,44.00 L1460.10,43.99 L1461.10,43.99 L1462.10,43.98 L1463.10,43.98 L1464.10,43.97 L1465.10,43.97 L1466.10,43.96 L1467.10,43.96 L1468.10,43.96 L1469.10,43.95 L1470.10,43.95 L1471.10,43.95 L1472.10,43.94 L1473.10,43.94 L1474.10,43.94 L1475.10,43.93 L1476.10,43.93 L1477.10,43.93 L1478.10,43.92 L1479.10,43.92 L1480.10,43.92 L1481.10,43.92 L1482.10,43.91 L1483.10,43.91 L1484.10,43.91 L1485.10,43.91 L1486.10,43.91 L1487.10,43.90 L1488.10,43.90 L1489.10,43.90 L1490.10,43.90 L1491.10,43.90 L1492.10,43.90 L1493.10,43.89 L1494.10,43.89 L1495.10,43.89 L1496.10,43.89 L1497.10,43.89 L1498.10,43.89 L1499.10,43.89 L1500.10,43.89 L1501.10,43.89 L1502.10,43.89 L1503.10,43.89 L1504.10,43.89 L1505.10,43.89 L1506.10,43.89 L1507.10,43.89 L1508.10,43.89 L1509.10,43.89 L1510.10,43.89 L1511.10,43.89 L1512.10,43.89 L1513.10,43.89 L1514.10,43.89 L1515.10,43.89 L1516.10,43.89 L1517.10,43.89 L1518.10,43.90 L1519.10,43.90 L1520.10,43.90 L1521.10,43.90 L1522.10,43.90 L1523.10,43.90 L1524.10,43.90 L1525.10,43.91 L1526.10,43.91 L1527.10,43.91 L1528.10,43.91 L1529.10,43.91 L1530.10,43.91 L1531.10,43.92 L1532.10,43.92 L1533.10,43.92 L1534.10,43.92 L1535.10,43.93 L1536.10,43.93 L1537.10,43.93 L1538.10,43.93 L1539.10,43.94 L1540.10,43.94 L1541.10,43.94 L1542.10,43.95 L1543.10,43.95 L1544.10,43.95 L1545.10,43.95 L1546.10,43.96 L1547.10,43.96 L1548.10,43.96 L1549.10,43.97 L1550.10,43.97 L1551.10,43.97 L1552.10,43.98 L1553.10,43.98 L1554.10,43.99 L1555.10,43.99 L1556.10,43.99 L1557.10,44.00 L1558.10,44.00 L1559.10,44.01 L1560.10,44.01 L1561.10,44.01 L1562.10,44.02 L1563.10,44.02 L1564.10,44.03 L1565.10,44.03 L1566.10,44.04 L1567.10,44.04 L1568.10,44.05 L1569.10,44.05 L1570.10,44.05 L1571.10,44.06 L1572.10,44.06 L1573.10,44.07 L1574.10,44.07 L1575.10,44.08 L1576.10,44.08 L1577.10,44.09 L1578.10,44.09 L1579.10,44.10 L1580.10,44.11 L1581.10,44.11 L1582.10,44.12 L1583.10,44.12 L1584.10,44.13 L1585.10,44.13 L1586.10,44.14 L1587.10,44.14 L1588.10,44.15 L1589.10,44.16 L1589.30,44.16" stroke="#0000ff"/>
<path d="M914.80,25.76 L915.00,25.76 L916.00,25.76 L917.00,25.76 L918.00,25.76 L919.00,25.76 L920.00,25.76 L921.00,25.76 L922.00,25.76 L923.00,25.76 L924.00,25.76 L925.00,25.76 L926.00,25.76 L927.00,25.76 L928.00,25.76 L929.00,25.76 L930.00,25.76 L931.00,25.76 L932.00,25.76 L933.00,25.76 L934.00,25.76 L935.00,25.76 L936.00,25.76 L937.00,25.76 L938.00,25.76 L939.00,25.76 L940.00,25.76 L941.00,25.76 L942.00,25.76 L943.00,25.76 L944.00,25.76 L945.00,25.76 L946.00,25.76 L947.00,25.76 L948.00,25.76 L949.00,25.76 L950.00,25.76 L951.00,25.76 L952.00,25.76 L953.00,25.76 L954.00,25.76 L955.00,25.76 L956.00,25.76 L957.00,25.76 L958.00,25.76 L959.00,25.76 L960.00,25.76 L961.00,25.76 L962.00,25.76 L963.00,25.76 L964.00,25.76 L965.00,25.76 L966.00,25.76 L967.00,25.76 L968.00,25.76 L969.00,25.76 L970.00,25.76 L971.00,25.76 L972.00,25.76 L973.00,25.76 L974.00,25.76 L975.00,25.76 L976.00,25.76 L977.00,25.76 L978.00,25.76 L979.00,25.76 L980.00,25.76 L981.00,25.76 L982.00,25.76 L983.00,25.76 L984.00,25.76 L985.00,25.76 L986.00,25.76 L987.00,25.76 L988.00,25.76 L989.00,25.76 L990.00,25.92 L991.00,25.91 L992.00,25.91 L993.00,25.90 L994.00,25.90 L995.00,25.90 L996.00,25.90 L997.00,25.91 L998.00,25.91 L999.00,25.91 L1000.00,25.92 L1001.00,25.93 L1002.00,25.93 L1003.00,25.94 L1004.00,25.96 L1005.00,25.97 L1006.00,25.98 L1007.00,26.00 L1008.00,26.01 L1009.00,26.03 L1010.00,26.05 L1011.00,26.07 L1012.00,26.09 L1013.00,26.12 L1014.00,26.14 L1015.00,26.17 L1016.00,26.20 L1017.00,26.23 L1018.00,26.26 L1019.00,26.29 L1020.00,26.33 L1021.00,26.36 L1022.00,26.40 L1023.00,26.44 L1024.00,26.48 L1025.00,26.53 L1026.00,26.57 L1027.00,26.62 L1028.00,26.67 L1029.00,26.72 L1030.00,26.77 L1031.00,26.83 L1032.00,26.88 L1033.00,26.94 L1034.00,27.00 L1035.00,27.06 L1036.00,27.13 L1037.00,27.20 L1038.00,27.27 L1039.00,27.34 L1040.00,27.41 L1041.00,27.49 L1042.00,27.56 L1043.00,27.65 L1044.00,27.73 L1045.00,27.81 L1046.00,27.90 L1047.00,27.99 L1048.00,28.08 L1049.00,28.18 L1050.00,28.28 L1051.00,28.38 L1052.00,28.48 L1053.00,28.59 L1054.00,28.70 L1055.00,28.81 L1056.00,28.92 L1057.00,29.04 L1058.00,29.16 L1059.00,29.28 L1060.00,29.41 L1061.00,29.54 L1062.00,29.68 L1063.00,29.81 L1064.00,29.95 L1065.00,30.09 L1066.00,30.24 L1067.00,30.39 L1068.00,30.55 L1069.00,30.70 L1070.00,30.86 L1071.00,31.03 L1072.00,31.20 L1073.00,31.37 L1074.00,31.55 L1075.00,31.73 L1076.00,31.91 L1077.00,32.10 L1078.00,32.30 L1079.00,32.50 L1080.00,32.70 L1081.00,32.91 L1082.00,33.12 L1083.00,33.33 L1084.00,33.56 L1085.00,33.78 L1086.00,34.01 L1087.00,34.25 L1088.00,34.49 L1089.00,34.74 L1090.00,35.00 L1091.00,35.25 L1092.00,35.52 L1093.00,35.79 L1094.00,36.07 L1095.00,36.35 L1096.00,36.64 L1097.00,36.93 L1098.00,37.24 L1099.00,37.55 L1100.00,37.86 L1101.00,38.19 L1102.00,38.52 L1103.00,38.86 L1104.00,39.20 L1105.00,39.55 L1106.00,39.92 L1107.00,40.29 L1108.00,40.66 L1109.00,41.05 L1110.00,41.44 L1111.00,41.85 L1112.00,42.26 L1113.00,42.68 L1114.00,43.11 L1115.00,43.56 L1116.00,44.01 L1117.00,44.47 L1118.00,44.94 L1119.00,45.42 L1120.00,45.91 L1121.00,46.41 L1122.00,46.93 L1123.00,47.45 L1124.00,47.99 L1125.00,48.54 L1126.00,49.10 L1127.00,49.68 L1128.00,50.26 L1129.00,50.86 L1130.00,51.48 L1131.00,52.11 L1132.00,52.75 L1133.00,53.40 L1134.00,54.07 L1135.00,54.76 L1136.00,55.46 L1137.00,56.18 L1138.00,56.91 L1139.00,57.67 L1140.00,58.43 L1141.00,59.22 L1142.00,60.03 L1143.00,60.85 L1144.00,61.69 L1145.00,62.55 L1146.00,63.44 L1147.00,64.34 L1148.00,65.27 L1149.00,66.21 L1150.00,67.18 L1151.00,68.18 L1152.00,69.20 L1153.00,70.24 L1154.00,71.30 L1155.00,72.40 L1156.00,73.52 L1157.00,74.67 L1158.00,75.84 L1158.40,76.32 L1158.80,76.81 L1159.20,77.29 L1159.60,77.79 L1160.00,78.28 L1160.40,78.79 L1160.80,79.29 L1161.20,79.81 L1161.60,80.32 L1162.00,80.85 L1162.40,81.38 L1162.80,81.91 L1163.20,82.45 L1163.60,82.99 L1164.00,83.55 L1164.40,84.10 L1164.80,84.66 L1165.20,85.23 L1165.60,85.81 L1166.00,86.39 L1166.40,86.98 L1166.80,87.58 L1167.20,88.18 L1167.60,88.79 L1168.00,89.41 L1168.40,90.03 L1168.80,90.67 L1169.20,91.31 L1169.60,91.96 L1170.00,92.62 L1170.40,93.28 L1170.80,93.96 L1171.20,94.65 L1171.60,95.34 L1172.00,96.05 L1172.40,96.76 L1172.80,97.49 L1173.20,98.23 L1173.60,98.98 L1174.00,99.74 L1174.40,100.51 L1174.80,101.30 L1175.20,102.10 L1175.60,102.91 L1176.00,103.74 L1176.40,104.58 L1176.80,105.43 L1177.20,106.31 L1177.60,107.19 L1178.00,108.10 L1178.40,109.02 L1178.80,109.96 L1179.20,110.93 L1179.60,111.91 L1180.00,112.91 L1180.40,113.93 L1180.80,114.98 L1181.20,116.05 L1181.60,117.15 L1182.00,118.27 L1182.40,119.43 L1182.80,120.61 L1183.20,121.82 L1183.60,123.06 L1184.00,124.34 L1184.40,125.66 L1184.80,127.02 L1185.20,128.42 L1185.60,129.86 L1186.00,131.35 L1186.15,131.92 L1186.30,132.50 L1186.45,133.08 L1186.60,133.68 L1186.75,134.28 L1186.90,134.89 L1187.05,135.50 L1187.20,136.13 L1187.35,136.76 L1187.50,137.41 L1187.65,138.06 L1187.80,138.72 L1187.95,139.40 L1188.10,140.08 L1188.25,140.77 L1188.40,141.47 L1188.55,142.19 L1188.70,142.91 L1188.85,143.65 L1189.00,144.40 L1189.15,145.16 L1189.30,145.94 L1189.45,146.73 L1189.60,147.53 L1189.75,148.35 L1189.90,149.18 L1190.05,150.02 L1190.20,150.89 L1190.35,151.77 L1190.50,152.66 L1190.65,153.58 L1190.80,154.51 L1190.95,155.46 L1191.10,156.43 L1191.25,157.42 L1191.40,158.44 L1191.55,159.48 L1191.70,160.54 L1191.85,161.62 L1192.00,162.73 L1192.15,163.87 L1192.30,165.03 L1192.45,166.22 L1192.60,167.44 L1192.75,168.69 L1192.90,169.97 L1193.05,171.28 L1193.20,172.62 L1193.35,174.00 L1193.50,175.41 L1193.65,176.85 L1193.80,178.33 L1193.95,179.84 L1194.10,181.40 L1194.25,182.99 L1194.40,184.62 L1194.55,186.29 L1194.70,188.00 L1194.85,189.75 L1195.00,191.54 L1195.05,192.15 L1195.10,192.76 L1195.15,193.38 L1195.20,194.00 L1195.25,194.63 L1195.30,195.26 L1195.35,195.90 L1195.40,196.54 L1195.45,197.18 L1195.50,197.84 L1195.55,198.49 L1195.60,199.15 L1195.65,199.82 L1195.70,200.48 L1195.75,201.16 L1195.80,201.84 L1195.85,202.52 L1195.90,203.21 L1195.95,203.90 L1196.00,204.60 L1196.05,205.30 L1196.10,206.00 L1196.15,206.71 L1196.20,207.42 L1196.25,208.14 L1196.30,208.86 L1196.35,209.58 L1196.40,210.30 L1196.45,211.03 L1196.50,211.76 L1196.55,212.49 L1196.60,213.23 L1196.65,213.96 L1196.70,214.70 L1196.75,215.44 L1196.80,216.18 L1196.85,216.91 L1196.90,217.65 L1196.95,218.38 L1197.00,219.11 L1197.05,219.84 L1197.10,220.56 L1197.15,221.28 L1197.20,221.99 L1197.25,222.69 L1197.30,223.39 L1197.35,224.07 L1197.40,224.74 L1197.45,225.40 L1197.50,226.03 L1197.55,226.65 L1197.60,227.25 L1197.65,227.82 L1197.70,228.36 L1197.75,228.87 L1197.80,229.34 L1197.85,229.77 L1197.90,230.15 L1197.95,230.48 L1198.00,230.74 L1198.05,229.59 L1198.10,228.38 L1198.15,227.21 L1198.20,226.05 L1198.25,224.93 L1198.30,223.82 L1198.35,222.74 L1198.40,221.68 L1198.45,220.65 L1198.50,219.63 L1198.55,218.63 L1198.60,217.65 L1198.65,216.69 L1198.70,215.75 L1198.75,214.83 L1198.80,213.92 L1198.85,213.03 L1198.90,212.15 L1198.95,211.29 L1199.00,210.44 L1199.05,209.61 L1199.10,208.78 L1199.15,207.98 L1199.20,207.18 L1199.25,206.40 L1199.30,205.63 L1199.35,204.87 L1199.40,204.12 L1199.45,203.39 L1199.50,202.66 L1199.55,201.94 L1199.60,201.24 L1199.65,200.54 L1199.70,199.86 L1199.75,199.18 L1199.80,198.51 L1199.85,197.85 L1199.90,197.20 L1199.95,196.56 L1200.00,195.93 L1200.05,195.30 L1200.10,194.68 L1200.15,194.07 L1200.20,193.47 L1200.25,192.87 L1200.30,192.28 L1200.35,191.70 L1200.40,191.13 L1200.45,190.56 L1200.50,190.00 L1200.55,189.44 L1200.60,188.89 L1200.65,188.35 L1200.70,187.81 L1200.75,187.28 L1200.80,186.76 L1200.85,186.24 L1200.90,185.72 L1200.95,185.21 L1201.00,184.71 L1201.15,183.23 L1201.30,181.79 L1201.45,180.40 L1201.60,179.04 L1201.75,177.72 L1201.90,176.44 L1202.05,175.19 L1202.20,173.97 L1202.35,172.78 L1202.50,171.63 L1202.65,170.50 L1202.80,169.39 L1202.95,168.31 L1203.10,167.26 L1203.25,166.23 L1203.40,165.22 L1203.55,164.24 L1203.70,163.27 L1203.85,162.32 L1204.00,161.40 L1204.15,160.49 L1204.30,159.60 L1204.45,158.73 L1204.60,157.87 L1204.75,157.03 L1204.90,156.20 L1205.05,155.39 L1205.20,154.60 L1205.35,153.82 L1205.50,153.05 L1205.65,152.29 L1205.80,151.55 L1205.95,150.82 L1206.10,150.10 L1206.25,149.40 L1206.40,148.70 L1206.55,148.02 L1206.70,147.34 L1206.85,146.68 L1207.00,146.03 L1207.15,145.38 L1207.30,144.75 L1207.45,144.12 L1207.60,143.51 L1207.75,142.90 L1207.90,142.30 L1208.05,141.71 L1208.20,141.13 L1208.35,140.56 L1208.50,139.99 L1208.65,139.43 L1208.80,138.88 L1208.95,138.34 L1209.10,137.80 L1209.25,137.27 L1209.40,136.75 L1209.55,136.23 L1209.70,135.72 L1209.85,135.22 L1210.00,134.72 L1210.40,133.42 L1210.80,132.16 L1211.20,130.94 L1211.60,129.76 L1212.00,128.61 L1212.40,127.50 L1212.80,126.41 L1213.20,125.36 L1213.60,124.33 L1214.00,123.33 L1214.40,122.36 L1214.80,121.41 L1215.20,120.48 L1215.60,119.58 L1216.00,118.69 L1216.40,117.83 L1216.80,116.99 L1217.20,116.17 L1217.60,115.36 L1218.00,114.58 L1218.40,113.81 L1218.80,113.06 L1219.20,112.32 L1219.60,111.60 L1220.00,110.89 L1220.40,110.20 L1220.80,109.52 L1221.20,108.85 L1221.60,108.20 L1222.00,107.56 L1222.40,106.93 L1222.80,106.32 L1223.20,105.71 L1223.60,105.12 L1224.00,104.54 L1224.40,103.96 L1224.80,103.40 L1225.20,102.85 L1225.60,102.30 L1226.00,101.77 L1226.40,101.24 L1226.80,100.72 L1227.20,100.22 L1227.60,99.72 L1228.00,99.22 L1228.40,98.74 L1228.80,98.26 L1229.20,97.79 L1229.60,97.33 L1230.00,96.88 L1230.40,96.43 L1230.80,95.99 L1231.20,95.55 L1231.60,95.12 L1232.00,94.70 L1232.40,94.29 L1232.80,93.88 L1233.20,93.47 L1233.60,93.07 L1234.00,92.68 L1234.40,92.29 L1234.80,91.91 L1235.20,91.53 L1235.60,91.16 L1236.00,90.79 L1236.40,90.43 L1236.80,90.07 L1237.20,89.72 L1237.60,89.37 L1238.00,89.03 L1239.00,88.19 L1240.00,87.38 L1241.00,86.59 L1242.00,85.82 L1243.00,85.08 L1244.00,84.36 L1245.00,83.66 L1246.00,82.98 L1247.00,82.32 L1248.00,81.67 L1249.00,81.05 L1250.00,80.44 L1251.00,79.85 L1252.00,79.27 L1253.00,78.70 L1254.00,78.16 L1255.00,77.62 L1256.00,77.10 L1257.00,76.59 L1258.00,76.09 L1259.00,75.61 L1260.00,75.13 L1261.00,74.67 L1262.00,74.22 L1263.00,73.78 L1264.00,73.34 L1265.00,72.92 L1266.00,72.51 L1267.00,72.10 L1268.00,71.71 L1269.00,71.32 L1270.00,70.94 L1271.00,70.56 L1272.00,70.20 L1273.00,69.84 L1274.00,69.49 L1275.00,69.15 L1276.00,68.81 L1277.00,68.48 L1278.00,68.16 L1279.00,67.84 L1280.00,67.53 L1281.00,67.22 L1282.00,66.92 L1283.00,66.63 L1284.00,66.34 L1285.00,66.05 L1286.00,65.78 L1287.00,65.50 L1288.00,65.23 L1289.00,64.97 L1290.00,64.71 L1291.00,64.45 L1292.00,64.20 L1293.00,63.95 L1294.00,63.71 L1295.00,63.47 L1296.00,63.23 L1297.00,63.00 L1298.00,62.77 L1299.00,62.55 L1300.00,62.33 L1301.00,62.11 L1302.00,61.90 L1303.00,61.69 L1304.00,61.48 L1305.00,61.28 L1306.00,61.08 L1307.00,60.88 L1308.00,60.68 L1309.00,60.49 L1310.00,60.30 L1311.00,60.12 L1312.00,59.93 L1313.00,59.75 L1314.00,59.57 L1315.00,59.40 L1316.00,59.22 L1317.00,59.05 L1318.00,58.89 L1319.00,58.72 L1320.00,58.56 L1321.00,58.40 L1322.00,58.24 L1323.00,58.08 L1324.00,57.93 L1325.00,57.77 L1326.00,57.62 L1327.00,57.47 L1328.00,57.33 L1329.00,57.18 L1330.00,57.04 L1331.00,56.90 L1332.00,56.76 L1333.00,56.62 L1334.00,56.49 L1335.00,56.36 L1336.00,56.22 L1337.00,56.09 L1338.00,55.97 L1339.00,55.84 L1340.00,55.72 L1341.00,55.59 L1342.00,55.47 L1343.00,55.35 L1344.00,55.23 L1345.00,55.11 L1346.00,55.00 L1347.00,54.88 L1348.00,54.77 L1349.00,54.66 L1350.00,54.55 L1351.00,54.44 L1352.00,54.33 L1353.00,54.23 L1354.00,54.12 L1355.00,54.02 L1356.00,53.92 L1357.00,53.81 L1358.00,53.71 L1359.00,53.62 L1360.00,53.52 L1361.00,53.42 L1362.00,53.33 L1363.00,53.23 L1364.00,53.14 L1365.00,53.05 L1366.00,52.96 L1367.00,52.87 L1368.00,52.78 L1369.00,52.69 L1370.00,52.60 L1371.00,52.52 L1372.00,52.43 L1373.00,52.35 L1374.00,52.27 L1375.00,52.18 L1376.00,52.10 L1377.00,52.02 L1378.00,51.94 L1379.00,51.87 L1380.00,51.79 L1381.00,51.71 L1382.00,51.64 L1383.00,51.56 L1384.00,51.49 L1385.00,51.41 L1386.00,51.34 L1387.00,51.27 L1388.00,51.20 L1389.00,51.13 L1390.00,51.06 L1391.00,50.99 L1392.00,50.92 L1393.00,50.86 L1394.00,50.79 L1395.00,50.73 L1396.00,50.66 L1397.00,50.60 L1398.00,50.53 L1399.00,50.47 L1400.00,50.41 L1401.00,50.35 L1402.00,50.29 L1403.00,50.23 L1404.00,50.17 L1405.00,50.11 L1406.00,50.05 L1407.00,49.99 L1408.00,49.94 L1409.00,49.88 L1410.00,49.82 L1411.00,49.77 L1412.00,49.71 L1413.00,49.66 L1414.00,49.61 L1415.00,49.55 L1416.00,49.50 L1417.00,49.45 L1418.00,49.40 L1419.00,49.35 L1420.00,49.30 L1421.00,49.25 L1422.00,49.20 L1423.00,49.15 L1424.00,49.10 L1425.00,49.06 L1426.00,49.01 L1427.00,48.96 L1428.00,48.92 L1429.00,48.87 L1430.00,48.83 L1431.00,48.78 L1432.00,48.74 L1433.00,48.69 L1434.00,48.65 L1435.00,48.61 L1436.00,48.56 L1437.00,48.52 L1438.00,48.48 L1439.00,48.44 L1440.00,48.40 L1441.00,48.36 L1442.00,48.32 L1443.00,48.28 L1444.00,48.24 L1445.00,48.20 L1446.00,48.17 L1447.00,48.13 L1448.00,48.09 L1449.00,48.05 L1450.00,48.02 L1451.00,47.98 L1452.00,47.95 L1453.00,47.91 L1454.00,47.88 L1455.00,47.84 L1456.00,47.81 L1457.00,47.77 L1458.00,47.74 L1459.00,47.71 L1460.00,47.67 L1461.00,47.64 L1462.00,47.61 L1463.00,47.58 L1464.00,47.54 L1465.00,47.51 L1466.00,47.48 L1467.00,47.45 L1468.00,47.42 L1469.00,47.39 L1470.00,47.36 L1471.00,47.33 L1472.00,47.30 L1473.00,47.28 L1474.00,47.25 L1475.00,47.22 L1476.00,47.19 L1477.00,47.16 L1478.00,47.14 L1479.00,47.11 L1480.00,47.08 L1481.00,47.06 L1482.00,47.03 L1483.00,47.01 L1484.00,46.98 L1485.00,46.96 L1486.00,46.93 L1487.00,46.91 L1488.00,46.88 L1489.00,46.86 L1490.00,46.83 L1491.00,46.81 L1492.00,46.79 L1493.00,46.76 L1494.00,46.74 L1495.00,46.72 L1496.00,46.70 L1497.00,46.67 L1498.00,46.65 L1499.00,46.63 L1500.00,46.61 L1501.00,46.59 L1502.00,46.57 L1503.00,46.55 L1504.00,46.53 L1505.00,46.51 L1506.00,46.49 L1507.00,46.47 L1508.00,46.45 L1509.00,46.43 L1510.00,46.41 L1511.00,46.39 L1512.00,46.37 L1513.00,46.35 L1514.00,46.34 L1515.00,46.32 L1516.00,46.30 L1517.00,46.28 L1518.00,46.26 L1519.00,46.25 L1520.00,46.23 L1521.00,46.21 L1522.00,46.20 L1523.00,46.18 L1524.00,46.16 L1525.00,46.15 L1526.00,46.13 L1527.00,46.12 L1528.00,46.10 L1529.00,46.09 L1530.00,46.07 L1531.00,46.06 L1532.00,46.04 L1533.00,46.03 L1534.00,46.01 L1535.00,46.00 L1536.00,45.99 L1537.00,45.97 L1538.00,45.96 L1539.00,45.94 L1540.00,45.93 L1541.00,45.92 L1542.00,45.91 L1543.00,45.89 L1544.00,45.88 L1545.00,45.87 L1546.00,45.86 L1547.00,45.84 L1548.00,45.83 L1549.00,45.82 L1550.00,45.81 L1551.00,45.80 L1552.00,45.79 L1553.00,45.77 L1554.00,45.76 L1555.00,45.75 L1556.00,45.74 L1557.00,45.73 L1558.00,45.72 L1559.00,45.71 L1560.00,45.70 L1561.00,45.69 L1562.00,45.68 L1563.00,45.67 L1564.00,45.66 L1565.00,45.65 L1566.00,45.64 L1567.00,45.63 L1568.00,45.63 L1569.00,45.62 L1570.00,45.61 L1571.00,45.60 L1572.00,45.59 L1573.00,45.58 L1574.00,45.58 L1575.00,45.57 L1576.00,45.56 L1577.00,45.55 L1578.00,45.54 L1579.00,45.54 L1580.00,45.53 L1581.00,45.52 L1582.00,45.51 L1583.00,45.51 L1584.00,45.50 L1585.00,45.49 L1586.00,45.49 L1587.00,45.48 L1588.00,45.47 L1589.00,45.47 L1589.30,45.47" stroke="#00ff00"/>
<path d="M914.80,25.76 L914.80,25.76 L915.80,25.76 L916.80,25.76 L917.80,25.76 L918.80,25.76 L919.80,25.76 L920.80,25.76 L921.80,25.76 L922.80,25.76 L923.80,25.76 L924.80,25.76 L925.80,25.76 L926.80,25.76 L927.80,25.76 L928.80,25.76 L929.80,25.76 L930.80,25.76 L931.80,25.76 L932.80,25.76 L933.80,25.76 L934.80,25.76 L935.80,25.76 L936.80,25.76 L937.80,25.76 L938.80,25.76 L939.80,25.76 L940.80,25.76 L941.80,25.76 L942.80,25.76 L943.80,25.76 L944.80,25.76 L945.80,25.76 L946.80,25.76 L947.80,25.76 L948.80,25.76 L949.80,25.76 L950.80,25.76 L951.80,25.76 L952.80,25.76 L953.80,25.76 L954.80,25.76 L955.80,25.76 L956.80,25.76 L957.80,25.76 L958.80,25.76 L959.80,25.76 L960.80,25.76 L961.80,25.76 L962.80,25.76 L963.80,25.76 L964.80,25.76 L965.80,25.76 L966.80,25.76 L967.80,25.76 L968.80,25.76 L969.80,25.76 L970.80,25.76 L971.80,25.76 L972.80,25.76 L973.80,25.76 L974.80,25.76 L975.80,25.76 L976.80,25.76 L977.80,25.76 L978.80,25.76 L979.80,25.76 L980.80,25.76 L981.80,25.76 L982.80,25.76 L983.80,25.76 L984.80,25.76 L985.80,25.76 L986.80,25.76 L987.80,25.76 L988.80,25.76 L989.80,25.76 L990.80,25.76 L991.80,25.76 L992.80,25.76 L993.80,25.76 L994.80,25.76 L995.80,25.76 L996.80,25.76 L997.80,25.76 L998.80,25.76 L999.80,25.76 L1000.80,25.76 L1001.80,25.76 L1002.80,25.76 L1003.80,25.76 L1004.80,25.76 L1005.80,25.76 L1006.80,25.76 L1007.80,25.76 L1008.80,25.76 L1009.80,25.76 L1010.80,25.76 L1011.80,25.76 L1012.80,25.76 L1013.80,25.76 L1014.80,25.76 L1015.80,25.76 L1016.80,25.76 L1017.80,25.76 L1018.80,25.76 L1019.80,25.76 L1020.80,25.76 L1021.80,25.76 L1022.80,25.76 L1023.80,25.76 L1024.80,25.76 L1025.80,25.76 L1026.80,25.76 L1027.80,25.76 L1028.80,25.76 L1029.80,25.76 L1030.80,25.76 L1031.80,25.76 L1032.80,25.76 L1033.80,25.76 L1034.80,25.76 L1035.80,25.76 L1036.80,25.76 L1037.80,25.76 L1038.80,25.76 L1039.80,25.76 L1040.80,25.76 L1041.80,25.76 L1042.80,25.76 L1043.80,25.76 L1044.80,25.76 L1045.80,25.76 L1046.80,25.76 L1047.80,25.76 L1048.80,25.76 L1049.80,25.76 L1050.80,25.76 L1051.80,25.76 L1052.80,25.76 L1053.80,25.76 L1054.80,25.76 L1055.80,25.76 L1056.80,25.76 L1057.80,25.76 L1058.80,25.76 L1059.80,25.76 L1060.80,25.76 L1061.80,25.76 L1062.80,25.76 L1063.80,25.76 L1064.80,25.76 L1065.80,25.76 L1066.80,25.76 L1067.80,25.76 L1068.80,25.76 L1069.80,25.76 L1070.80,25.76 L1071.80,25.76 L1072.80,25.76 L1073.80,25.76 L1074.80,25.76 L1075.80,25.76 L1076.80,25.76 L1077.80,25.76 L1078.80,25.76 L1079.80,25.76 L1080.80,25.76 L1081.80,25.76 L1082.80,25.76 L1083.80,25.76 L1084.80,25.76 L1085.80,25.76 L1086.80,25.76 L1087.80,25.76 L1088.80,25.76 L1089.80,25.76 L1090.80,25.76 L1091.80,25.76 L1092.80,25.76 L1093.80,25.76 L1094.80,25.76 L1095.80,26.04 L1096.80,26.05 L1097.80,26.06 L1098.80,26.07 L1099.80,26.09 L1100.80,26.10 L1101.80,26.11 L1102.80,26.13 L1103.80,26.15 L1104.80,26.17 L1105.80,26.19 L1106.80,26.21 L1107.80,26.23 L1108.80,26.26 L1109.80,26.28 L1110.80,26.31 L1111.80,26.34 L1112.80,26.37 L1113.80,26.40 L1114.80,26.44 L1115.80,26.47 L1116.80,26.51 L1117.80,26.55 L1118.80,26.59 L1119.80,26.63 L1120.80,26.67 L1121.80,26.72 L1122.80,26.76 L1123.80,26.81 L1124.80,26.86 L1125.80,26.92 L1126.80,26.97 L1127.80,27.02 L1128.80,27.08 L1129.80,27.14 L1130.80,27.20 L1131.80,27.27 L1132.80,27.33 L1133.80,27.40 L1134.80,27.47 L1135.80,27.54 L1136.80,27.61 L1137.80,27.69 L1138.80,27.76 L1139.80,27.84 L1140.80,27.93 L1141.80,28.01 L1142.80,28.09 L1143.80,28.18 L1144.80,28.27 L1145.80,28.37 L1146.80,28.46 L1147.80,28.56 L1148.80,28.66 L1149.80,28.76 L1150.80,28.87 L1151.80,28.97 L1152.80,29.08 L1153.80,29.19 L1154.80,29.31 L1155.80,29.43 L1156.80,29.55 L1157.80,29.67 L1158.80,29.80 L1159.80,29.92 L1160.80,30.06 L1161.80,30.19 L1162.80,30.33 L1163.80,30.47 L1164.80,30.61 L1165.80,30.76 L1166.80,30.90 L1167.80,31.06 L1168.80,31.21 L1169.80,31.37 L1170.80,31.53 L1171.80,31.70 L1172.80,31.87 L1173.80,32.04 L1174.80,32.21 L1175.80,32.39 L1176.80,32.58 L1177.80,32.76 L1178.80,32.95 L1179.80,33.15 L1180.80,33.34 L1181.80,33.55 L1182.80,33.75 L1183.80,33.96 L1184.80,34.18 L1185.80,34.39 L1186.80,34.62 L1187.80,34.84 L1188.80,35.07 L1189.80,35.31 L1190.80,35.55 L1191.80,35.79 L1192.80,36.04 L1193.80,36.30 L1194.80,36.55 L1195.80,36.82 L1196.80,37.09 L1197.80,37.36 L1198.80,37.64 L1199.80,37.92 L1200.80,38.21 L1201.80,38.51 L1202.80,38.81 L1203.80,39.12 L1204.80,39.43 L1205.80,39.75 L1206.80,40.07 L1207.80,40.40 L1208.80,40.74 L1209.80,41.08 L1210.80,41.43 L1211.80,41.79 L1212.80,42.15 L1213.80,42.52 L1214.80,42.90 L1215.80,43.29 L1216.80,43.68 L1217.80,44.08 L1218.80,44.49 L1219.80,44.90 L1220.80,45.32 L1221.80,45.75 L1222.80,46.19 L1223.80,46.64 L1224.80,47.10 L1225.80,47.57 L1226.80,48.04 L1227.80,48.52 L1228.80,49.02 L1229.80,49.52 L1230.80,50.04 L1231.80,50.56 L1232.80,51.09 L1233.80,51.64 L1234.80,52.20 L1235.80,52.76 L1236.80,53.34 L1237.80,53.93 L1238.80,54.54 L1239.80,55.15 L1240.80,55.78 L1241.80,56.42 L1242.80,57.07 L1243.80,57.74 L1244.80,58.43 L1245.80,59.12 L1246.80,59.83 L1247.80,60.56 L1248.80,61.30 L1249.80,62.06 L1250.80,62.84 L1251.80,63.63 L1252.80,64.44 L1253.80,65.27 L1254.80,66.12 L1255.80,66.99 L1256.80,67.87 L1257.80,68.78 L1258.80,69.71 L1259.80,70.66 L1260.80,71.63 L1261.80,72.62 L1262.80,73.64 L1263.80,74.69 L1264.80,75.76 L1265.80,76.85 L1266.80,77.97 L1267.80,79.12 L1268.80,80.31 L1269.80,81.52 L1270.20,82.01 L1270.60,82.51 L1271.00,83.01 L1271.40,83.52 L1271.80,84.03 L1272.20,84.55 L1272.60,85.07 L1273.00,85.60 L1273.40,86.14 L1273.80,86.68 L1274.20,87.23 L1274.60,87.78 L1275.00,88.34 L1275.40,88.90 L1275.80,89.47 L1276.20,90.05 L1276.60,90.63 L1277.00,91.22 L1277.40,91.82 L1277.80,92.42 L1278.20,93.03 L1278.60,93.65 L1279.00,94.27 L1279.40,94.90 L1279.80,95.53 L1280.20,96.18 L1280.60,96.83 L1281.00,97.49 L1281.40,98.15 L1281.80,98.83 L1282.20,99.51 L1282.60,100.20 L1283.00,100.89 L1283.40,101.60 L1283.80,102.32 L1284.20,103.04 L1284.60,103.77 L1285.00,104.52 L1285.40,105.27 L1285.80,106.03 L1286.20,106.81 L1286.60,107.60 L1287.00,108.39 L1287.40,109.20 L1287.80,110.03 L1288.20,110.87 L1288.60,111.72 L1289.00,112.58 L1289.40,113.46 L1289.80,114.36 L1290.20,115.27 L1290.60,116.21 L1291.00,117.16 L1291.40,118.13 L1291.80,119.12 L1292.20,120.13 L1292.60,121.16 L1293.00,122.22 L1293.40,123.30 L1293.80,124.41 L1294.20,125.55 L1294.60,126.72 L1295.00,127.92 L1295.40,129.15 L1295.80,130.42 L1296.20,131.72 L1296.60,133.07 L1297.00,134.45 L1297.40,135.88 L1297.80,137.36 L1297.95,137.92 L1298.10,138.49 L1298.25,139.07 L1298.40,139.66 L1298.55,140.25 L1298.70,140.86 L1298.85,141.47 L1299.00,142.08 L1299.15,142.71 L1299.30,143.34 L1299.45,143.99 L1299.60,144.64 L1299.75,145.30 L1299.90,145.97 L1300.05,146.65 L1300.20,147.35 L1300.35,148.05 L1300.50,148.76 L1300.65,149.48 L1300.80,150.21 L1300.95,150.96 L1301.10,151.71 L1301.25,152.48 L1301.40,153.26 L1301.55,154.06 L1301.70,154.87 L1301.85,155.69 L1302.00,156.52 L1302.15,157.37 L1302.30,158.24 L1302.45,159.12 L1302.60,160.01 L1302.75,160.93 L1302.90,161.86 L1303.05,162.81 L1303.20,163.77 L1303.35,164.76 L1303.50,165.76 L1303.65,166.79 L1303.80,167.83 L1303.95,168.90 L1304.10,169.98 L1304.25,171.09 L1304.40,172.22 L1304.55,173.38 L1304.70,174.55 L1304.85,175.75 L1305.00,176.98 L1305.15,178.23 L1305.30,179.51 L1305.45,180.81 L1305.60,182.14 L1305.75,183.50 L1305.90,184.89 L1306.05,186.31 L1306.20,187.75 L1306.35,189.23 L1306.50,190.73 L1306.65,192.27 L1306.80,193.83 L1306.85,194.36 L1306.90,194.90 L1306.95,195.43 L1307.00,195.97 L1307.05,196.51 L1307.10,197.06 L1307.15,197.61 L1307.20,198.16 L1307.25,198.72 L1307.30,199.28 L1307.35,199.84 L1307.40,200.41 L1307.45,200.98 L1307.50,201.55 L1307.55,202.13 L1307.60,202.70 L1307.65,203.29 L1307.70,203.87 L1307.75,204.46 L1307.80,205.05 L1307.85,205.64 L1307.90,206.24 L1307.95,206.83 L1308.00,207.43 L1308.05,208.03 L1308.10,208.64 L1308.15,209.24 L1308.20,209.85 L1308.25,210.45 L1308.30,211.06 L1308.35,211.67 L1308.40,212.28 L1308.45,212.89 L1308.50,213.50 L1308.55,214.10 L1308.60,214.71 L1308.65,215.31 L1308.70,215.91 L1308.75,216.51 L1308.80,217.10 L1308.85,217.69 L1308.90,218.28 L1308.95,218.86 L1309.00,219.43 L1309.05,219.99 L1309.10,220.54 L1309.15,221.08 L1309.20,221.61 L1309.25,222.12 L1309.30,222.62 L1309.35,223.09 L1309.40,223.55 L1309.45,223.98 L1309.50,224.39 L1309.55,224.77 L1309.60,225.11 L1309.65,225.41 L1309.70,225.67 L1309.75,225.88 L1309.80,226.04 L1309.85,225.45 L1309.90,224.80 L1309.95,224.15 L1310.00,223.49 L1310.05,222.82 L1310.10,222.16 L1310.15,221.49 L1310.20,220.82 L1310.25,220.16 L1310.30,219.49 L1310.35,218.83 L1310.40,218.16 L1310.45,217.50 L1310.50,216.85 L1310.55,216.19 L1310.60,215.54 L1310.65,214.89 L1310.70,214.25 L1310.75,213.61 L1310.80,212.97 L1310.85,212.34 L1310.90,211.72 L1310.95,211.09 L1311.00,210.47 L1311.05,209.86 L1311.10,209.25 L1311.15,208.65 L1311.20,208.05 L1311.25,207.45 L1311.30,206.86 L1311.35,206.27 L1311.40,205.69 L1311.45,205.11 L1311.50,204.54 L1311.55,203.97 L1311.60,203.41 L1311.65,202.85 L1311.70,202.30 L1311.75,201.75 L1311.80,201.20 L1311.85,200.66 L1311.90,200.13 L1311.95,199.59 L1312.00,199.06 L1312.05,198.54 L1312.10,198.02 L1312.15,197.51 L1312.20,196.99 L1312.25,196.49 L1312.30,195.98 L1312.35,195.48 L1312.40,194.99 L1312.45,194.50 L1312.50,194.01 L1312.55,193.53 L1312.60,193.05 L1312.65,192.57 L1312.70,192.10 L1312.75,191.63 L1312.80,191.16 L1312.95,189.79 L1313.10,188.44 L1313.25,187.13 L1313.40,185.84 L1313.55,184.58 L1313.70,183.35 L1313.85,182.14 L1314.00,180.96 L1314.15,179.81 L1314.30,178.67 L1314.45,177.56 L1314.60,176.47 L1314.75,175.40 L1314.90,174.35 L1315.05,173.32 L1315.20,172.31 L1315.35,171.32 L1315.50,170.35 L1315.65,169.39 L1315.80,168.45 L1315.95,167.53 L1316.10,166.62 L1316.25,165.73 L1316.40,164.85 L1316.55,163.99 L1316.70,163.14 L1316.85,162.30 L1317.00,161.48 L1317.15,160.67 L1317.30,159.87 L1317.45,159.09 L1317.60,158.32 L1317.75,157.55 L1317.90,156.80 L1318.05,156.07 L1318.20,155.34 L1318.35,154.62 L1318.50,153.91 L1318.65,153.22 L1318.80,152.53 L1318.95,151.85 L1319.10,151.18 L1319.25,150.52 L1319.40,149.87 L1319.55,149.23 L1319.70,148.59 L1319.85,147.97 L1320.00,147.35 L1320.15,146.74 L1320.30,146.14 L1320.45,145.55 L1320.60,144.96 L1320.75,144.38 L1320.90,143.81 L1321.05,143.24 L1321.20,142.68 L1321.35,142.13 L1321.50,141.58 L1321.65,141.04 L1321.80,140.51 L1322.20,139.12 L1322.60,137.77 L1323.00,136.46 L1323.40,135.19 L1323.80,133.95 L1324.20,132.75 L1324.60,131.58 L1325.00,130.44 L1325.40,129.33 L1325.80,128.25 L1326.20,127.20 L1326.60,126.17 L1327.00,125.17 L1327.40,124.19 L1327.80,123.24 L1328.20,122.31 L1328.60,121.40 L1329.00,120.51 L1329.40,119.64 L1329.80,118.79 L1330.20,117.96 L1330.60,117.15 L1331.00,116.35 L1331.40,115.57 L1331.80,114.81 L1332.20,114.06 L1332.60,113.33 L1333.00,112.61 L1333.40,111.91 L1333.80,111.22 L1334.20,110.55 L1334.60,109.88 L1335.00,109.23 L1335.40,108.60 L1335.80,107.97 L1336.20,107.36 L1336.60,106.75 L1337.00,106.16 L1337.40,105.58 L1337.80,105.01 L1338.20,104.45 L1338.60,103.90 L1339.00,103.36 L1339.40,102.82 L1339.80,102.30 L1340.20,101.79 L1340.60,101.28 L1341.00,100.78 L1341.40,100.29 L1341.80,99.81 L1342.20,99.34 L1342.60,98.87 L1343.00,98.41 L1343.40,97.96 L1343.80,97.52 L1344.20,97.08 L1344.60,96.65 L1345.00,96.23 L1345.40,95.81 L1345.80,95.40 L1346.20,95.00 L1346.60,94.60 L1347.00,94.21 L1347.40,93.82 L1347.80,93.44 L1348.20,93.06 L1348.60,92.69 L1349.00,92.33 L1349.40,91.97 L1349.80,91.62 L1350.80,90.75 L1351.80,89.92 L1352.80,89.11 L1353.80,88.34 L1354.80,87.58 L1355.80,86.86 L1356.80,86.15 L1357.80,85.47 L1358.80,84.81 L1359.80,84.17 L1360.80,83.56 L1361.80,82.96 L1362.80,82.37 L1363.80,81.81 L1364.80,81.26 L1365.80,80.72 L1366.80,80.20 L1367.80,79.69 L1368.80,79.20 L1369.80,78.72 L1370.80,78.25 L1371.80,77.79 L1372.80,77.35 L1373.80,76.92 L1374.80,76.49 L1375.80,76.08 L1376.80,75.67 L1377.80,75.28 L1378.80,74.89 L1379.80,74.51 L1380.80,74.14 L1381.80,73.78 L1382.80,73.43 L1383.80,73.08 L1384.80,72.74 L1385.80,72.41 L1386.80,72.08 L1387.80,71.76 L1388.80,71.45 L1389.80,71.14 L1390.80,70.84 L1391.80,70.54 L1392.80,70.25 L1393.80,69.97 L1394.80,69.69 L1395.80,69.41 L1396.80,69.14 L1397.80,68.88 L1398.80,68.62 L1399.80,68.36 L1400.80,68.11 L1401.80,67.86 L1402.80,67.62 L1403.80,67.38 L1404.80,67.14 L1405.80,66.91 L1406.80,66.68 L1407.80,66.45 L1408.80,66.23 L1409.80,66.01 L1410.80,65.79 L1411.80,65.58 L1412.80,65.37 L1413.80,65.17 L1414.80,64.96 L1415.80,64.76 L1416.80,64.56 L1417.80,64.37 L1418.80,64.18 L1419.80,63.99 L1420.80,63.80 L1421.80,63.61 L1422.80,63.43 L1423.80,63.25 L1424.80,63.07 L1425.80,62.90 L1426.80,62.72 L1427.80,62.55 L1428.80,62.38 L1429.80,62.22 L1430.80,62.05 L1431.80,61.89 L1432.80,61.73 L1433.80,61.57 L1434.80,61.41 L1435.80,61.25 L1436.80,61.10 L1437.80,60.95 L1438.80,60.80 L1439.80,60.65 L1440.80,60.50 L1441.80,60.35 L1442.80,60.21 L1443.80,60.07 L1444.80,59.93 L1445.80,59.79 L1446.80,59.65 L1447.80,59.51 L1448.80,59.37 L1449.80,59.24 L1450.80,59.11 L1451.80,58.98 L1452.80,58.84 L1453.80,58.72 L1454.80,58.59 L1455.80,58.46 L1456.80,58.33 L1457.80,58.21 L1458.80,58.09 L1459.80,57.96 L1460.80,57.84 L1461.80,57.72 L1462.80,57.60 L1463.80,57.49 L1464.80,57.37 L1465.80,57.25 L1466.80,57.14 L1467.80,57.03 L1468.80,56.91 L1469.80,56.80 L1470.80,56.69 L1471.80,56.58 L1472.80,56.47 L1473.80,56.36 L1474.80,56.25 L1475.80,56.15 L1476.80,56.04 L1477.80,55.94 L1478.80,55.83 L1479.80,55.73 L1480.80,55.62 L1481.80,55.52 L1482.80,55.42 L1483.80,55.32 L1484.80,55.22 L1485.80,55.12 L1486.80,55.03 L1487.80,54.93 L1488.80,54.83 L1489.80,54.74 L1490.80,54.64 L1491.80,54.55 L1492.80,54.46 L1493.80,54.37 L1494.80,54.28 L1495.80,54.19 L1496.80,54.10 L1497.80,54.01 L1498.80,53.92 L1499.80,53.83 L1500.80,53.75 L1501.80,53.66 L1502.80,53.58 L1503.80,53.49 L1504.80,53.41 L1505.80,53.33 L1506.80,53.24 L1507.80,53.16 L1508.80,53.08 L1509.80,53.00 L1510.80,52.92 L1511.80,52.85 L1512.80,52.77 L1513.80,52.69 L1514.80,52.62 L1515.80,52.54 L1516.80,52.47 L1517.80,52.39 L1518.80,52.32 L1519.80,52.25 L1520.80,52.18 L1521.80,52.11 L1522.80,52.04 L1523.80,51.97 L1524.80,51.90 L1525.80,51.83 L1526.80,51.77 L1527.80,51.70 L1528.80,51.63 L1529.80,51.57 L1530.80,51.50 L1531.80,51.44 L1532.80,51.38 L1533.80,51.31 L1534.80,51.25 L1535.80,51.19 L1536.80,51.13 L1537.80,51.07 L1538.80,51.01 L1539.80,50.95 L1540.80,50.90 L1541.80,50.84 L1542.80,50.78 L1543.80,50.73 L1544.80,50.67 L1545.80,50.62 L1546.80,50.56 L1547.80,50.51 L1548.80,50.46 L1549.80,50.40 L1550.80,50.35 L1551.80,50.30 L1552.80,50.25 L1553.80,50.20 L1554.80,50.15 L1555.80,50.10 L1556.80,50.06 L1557.80,50.01 L1558.80,49.96 L1559.80,49.92 L1560.80,49.87 L1561.80,49.83 L1562.80,49.78 L1563.80,49.74 L1564.80,49.69 L1565.80,49.65 L1566.80,49.61 L1567.80,49.57 L1568.80,49.53 L1569.80,49.49 L1570.80,49.45 L1571.80,49.41 L1572.80,49.37 L1573.80,49.33 L1574.80,49.29 L1575.80,49.25 L1576.80,49.22 L1577.80,49.18 L1578.80,49.14 L1579.80,49.11 L1580.80,49.07 L1581.80,49.04 L1582.80,49.01 L1583.80,48.97 L1584.80,48.94 L1585.80,48.91 L1586.80,48.88 L1587.80,48.85 L1588.80,48.81 L1589.30,48.80" stroke="#000000"/>
<path d="M914.80,25.76 L914.90,25.76 L915.90,25.76 L916.90,25.76 L917.90,25.76 L918.90,25.76 L919.90,25.76 L920.90,25.76 L921.90,25.76 L922.90,25.76 L923.90,25.76 L924.90,25.76 L925.90,25.76 L926.90,25.76 L927.90,25.76 L928.90,25.76 L929.90,25.76 L930.90,25.76 L931.90,25.76 L932.90,25.76 L933.90,25.76 L934.90,25.76 L935.90,25.76 L936.90,25.76 L937.90,25.76 L938.90,25.76 L939.90,25.76 L940.90,25.76 L941.90,25.76 L942.90,25.76 L943.90,25.76 L944.90,25.76 L945.90,25.76 L946.90,25.76 L947.90,25.76 L948.90,25.76 L949.90,25.76 L950.90,25.76 L951.90,25.76 L952.90,25.76 L953.90,25.76 L954.90,25.76 L955.90,25.76 L956.90,25.76 L957.90,25.76 L958.90,25.76 L959.90,25.76 L960.90,25.76 L961.90,25.76 L962.90,25.76 L963.90,25.76 L964.90,25.76 L965.90,25.76 L966.90,25.76 L967.90,25.76 L968.90,25.76 L969.90,25.76 L970.90,25.76 L971.90,25.76 L972.90,25.76 L973.90,25.76 L974.90,25.76 L975.90,25.76 L976.90,25.76 L977.90,25.76 L978.90,25.76 L979.90,25.76 L980.90,25.76 L981.90,25.76 L982.90,25.76 L983.90,25.76 L984.90,25.76 L985.90,25.76 L986.90,25.76 L987.90,25.76 L988.90,25.76 L989.90,25.76 L990.90,25.76 L991.90,25.76 L992.90,25.76 L993.90,25.76 L994.90,25.76 L995.90,25.76 L996.90,25.76 L997.90,25.76 L998.90,25.76 L999.90,25.76 L1000.90,25.76 L1001.90,25.76 L1002.90,25.76 L1003.90,25.76 L1004.90,25.76 L1005.90,25.76 L1006.90,25.76 L1007.90,25.76 L1008.90,25.76 L1009.90,25.76 L1010.90,25.76 L1011.90,25.76 L1012.90,25.76 L1013.90,25.76 L1014.90,25.76 L1015.90,25.76 L1016.90,25.76 L1017.90,25.76 L1018.90,25.76 L1019.90,25.76 L1020.90,25.76 L1021.90,25.76 L1022.90,25.76 L1023.90,25.76 L1024.90,25.76 L1025.90,25.76 L1026.90,25.76 L1027.90,25.76 L1028.90,25.76 L1029.90,25.76 L1030.90,25.76 L1031.90,25.76 L1032.90,25.76 L1033.90,25.76 L1034.90,25.76 L1035.90,25.76 L1036.90,25.76 L1037.90,25.76 L1038.90,25.76 L1039.90,25.76 L1040.90,25.76 L1041.90,25.76 L1042.90,25.76 L1043.90,25.76 L1044.90,25.76 L1045.90,25.76 L1046.90,25.76 L1047.90,25.76 L1048.90,25.76 L1049.90,25.76 L1050.90,25.76 L1051.90,25.76 L1052.90,25.76 L1053.90,25.76 L1054.90,25.76 L1055.90,25.76 L1056.90,25.76 L1057.90,25.76 L1058.90,25.76 L1059.90,25.76 L1060.90,25.76 L1061.90,25.76 L1062.90,25.76 L1063.90,25.76 L1064.90,25.76 L1065.90,25.76 L1066.90,25.76 L1067.90,25.76 L1068.90,25.76 L1069.90,25.76 L1070.90,25.76 L1071.90,25.76 L1072.90,25.76 L1073.90,25.76 L1074.90,25.76 L1075.90,25.76 L1076.90,25.76 L1077.90,25.76 L1078.90,25.76 L1079.90,25.76 L1080.90,25.76 L1081.90,25.76 L1082.90,25.76 L1083.90,25.76 L1084.90,25.76 L1085.90,25.76 L1086.90,25.76 L1087.90,25.76 L1088.90,25.76 L1089.90,25.76 L1090.90,25.76 L1091.90,25.76 L1092.90,25.76 L1093.90,25.76 L1094.90,25.76 L1095.90,25.76 L1096.90,25.76 L1097.90,25.76 L1098.90,25.76 L1099.90,25.76 L1100.90,25.76 L1101.90,25.76 L1102.90,25.76 L1103.90,25.76 L1104.90,25.76 L1105.90,25.76 L1106.90,25.76 L1107.90,25.76 L1108.90,25.76 L1109.90,25.76 L1110.90,25.76 L1111.90,25.76 L1112.90,25.76 L1113.90,25.76 L1114.90,25.76 L1115.90,25.76 L1116.90,25.76 L1117.90,25.76 L1118.90,25.76 L1119.90,25.76 L1120.90,25.76 L1121.90,25.76 L1122.90,25.76 L1123.90,25.76 L1124.90,25.76 L1125.90,25.76 L1126.90,25.76 L1127.90,25.76 L1128.90,25.76 L1129.90,25.76 L1130.90,25.76 L1131.90,25.76 L1132.90,25.76 L1133.90,25.76 L1134.90,25.76 L1135.90,25.76 L1136.90,25.76 L1137.90,25.76 L1138.90,25.76 L1139.90,25.76 L1140.90,26.39 L1141.90,26.39 L1142.90,26.38 L1143.90,26.38 L1144.90,26.38 L1145.90,26.38 L1146.90,26.38 L1147.90,26.38 L1148.90,26.38 L1149.90,26.38 L1150.90,26.38 L1151.90,26.39 L1152.90,26.39 L1153.90,26.39 L1154.90,26.39 L1155.90,26.40 L1156.90,26.40 L1157.90,26.41 L1158.90,26.41 L1159.90,26.42 L1160.90,26.42 L1161.90,26.43 L1162.90,26.44 L1163.90,26.44 L1164.90,26.45 L1165.90,26.46 L1166.90,26.47 L1167.90,26.48 L1168.90,26.49 L1169.90,26.50 L1170.90,26.51 L1171.90,26.52 L1172.90,26.53 L1173.90,26.55 L1174.90,26.56 L1175.90,26.57 L1176.90,26.59 L1177.90,26.60 L1178.90,26.62 L1179.90,26.64 L1180.90,26.65 L1181.90,26.67 L1182.90,26.69 L1183.90,26.71 L1184.90,26.73 L1185.90,26.75 L1186.90,26.77 L1187.90,26.79 L1188.90,26.81 L1189.90,26.84 L1190.90,26.86 L1191.90,26.89 L1192.90,26.91 L1193.90,26.94 L1194.90,26.97 L1195.90,26.99 L1196.90,27.02 L1197.90,27.05 L1198.90,27.08 L1199.90,27.11 L1200.90,27.15 L1201.90,27.18 L1202.90,27.21 L1203.90,27.25 L1204.90,27.29 L1205.90,27.32 L1206.90,27.36 L1207.90,27.40 L1208.90,27.44 L1209.90,27.48 L1210.90,27.52 L1211.90,27.57 L1212.90,27.61 L1213.90,27.65 L1214.90,27.70 L1215.90,27.75 L1216.90,27.80 L1217.90,27.85 L1218.90,27.90 L1219.90,27.95 L1220.90,28.00 L1221.90,28.06 L1222.90,28.11 L1223.90,28.17 L1224.90,28.23 L1225.90,28.29 L1226.90,28.35 L1227.90,28.41 L1228.90,28.48 L1229.90,28.54 L1230.90,28.61 L1231.90,28.68 L1232.90,28.75 L1233.90,28.82 L1234.90,28.89 L1235.90,28.96 L1236.90,29.04 L1237.90,29.12 L1238.90,29.20 L1239.90,29.28 L1240.90,29.36 L1241.90,29.45 L1242.90,29.53 L1243.90,29.62 L1244.90,29.71 L1245.90,29.80 L1246.90,29.89 L1247.90,29.99 L1248.90,30.09 L1249.90,30.19 L1250.90,30.29 L1251.90,30.39 L1252.90,30.50 L1253.90,30.61 L1254.90,30.72 L1255.90,30.83 L1256.90,30.95 L1257.90,31.06 L1258.90,31.18 L1259.90,31.31 L1260.90,31.43 L1261.90,31.56 L1262.90,31.69 L1263.90,31.82 L1264.90,31.96 L1265.90,32.10 L1266.90,32.24 L1267.90,32.38 L1268.90,32.53 L1269.90,32.68 L1270.90,32.83 L1271.90,32.99 L1272.90,33.15 L1273.90,33.31 L1274.90,33.48 L1275.90,33.65 L1276.90,33.82 L1277.90,34.00 L1278.90,34.18 L1279.90,34.36 L1280.90,34.55 L1281.90,34.74 L1282.90,34.94 L1283.90,35.14 L1284.90,35.34 L1285.90,35.55 L1286.90,35.76 L1287.90,35.98 L1288.90,36.20 L1289.90,36.43 L1290.90,36.66 L1291.90,36.90 L1292.90,37.14 L1293.90,37.38 L1294.90,37.63 L1295.90,37.89 L1296.90,38.15 L1297.90,38.41 L1298.90,38.69 L1299.90,38.96 L1300.90,39.24 L1301.90,39.53 L1302.90,39.83 L1303.90,40.12 L1304.90,40.43 L1305.90,40.74 L1306.90,41.06 L1307.90,41.38 L1308.90,41.71 L1309.90,42.05 L1310.90,42.39 L1311.90,42.74 L1312.90,43.09 L1313.90,43.46 L1314.90,43.83 L1315.90,44.20 L1316.90,44.59 L1317.90,44.98 L1318.90,45.38 L1319.90,45.78 L1320.90,46.20 L1321.90,46.62 L1322.90,47.05 L1323.90,47.49 L1324.90,47.94 L1325.90,48.39 L1326.90,48.86 L1327.90,49.33 L1328.90,49.82 L1329.90,50.31 L1330.90,50.81 L1331.90,51.32 L1332.90,51.84 L1333.90,52.37 L1334.90,52.92 L1335.90,53.47 L1336.90,54.03 L1337.90,54.60 L1338.90,55.19 L1339.90,55.79 L1340.90,56.40 L1341.90,57.02 L1342.90,57.65 L1343.90,58.29 L1344.90,58.95 L1345.90,59.62 L1346.90,60.31 L1347.90,61.01 L1348.90,61.72 L1349.90,62.44 L1350.90,63.19 L1351.90,63.94 L1352.90,64.71 L1353.90,65.50 L1354.90,66.31 L1355.90,67.13 L1356.90,67.96 L1357.90,68.82 L1358.90,69.69 L1359.90,70.58 L1360.90,71.49 L1361.90,72.41 L1362.90,73.36 L1363.90,74.33 L1364.90,75.32 L1365.90,76.33 L1366.90,77.36 L1367.90,78.41 L1368.90,79.48 L1369.90,80.58 L1370.90,81.70 L1371.90,82.85 L1372.90,84.02 L1373.90,85.21 L1374.90,86.44 L1375.30,86.93 L1375.70,87.43 L1376.10,87.94 L1376.50,88.45 L1376.90,88.96 L1377.30,89.48 L1377.70,90.00 L1378.10,90.53 L1378.50,91.06 L1378.90,91.59 L1379.30,92.13 L1379.70,92.68 L1380.10,93.23 L1380.50,93.78 L1380.90,94.34 L1381.30,94.90 L1381.70,95.47 L1382.10,96.05 L1382.50,96.63 L1382.90,97.21 L1383.30,97.80 L1383.70,98.40 L1384.10,99.00 L1384.50,99.61 L1384.90,100.22 L1385.30,100.84 L1385.70,101.47 L1386.10,102.10 L1386.50,102.75 L1386.90,103.39 L1387.30,104.05 L1387.70,104.71 L1388.10,105.39 L1388.50,106.07 L1388.90,106.76 L1389.30,107.45 L1389.70,108.16 L1390.10,108.88 L1390.50,109.60 L1390.90,110.34 L1391.30,111.09 L1391.70,111.85 L1392.10,112.62 L1392.50,113.40 L1392.90,114.19 L1393.30,115.00 L1393.70,115.82 L1394.10,116.66 L1394.50,117.51 L1394.90,118.37 L1395.30,119.25 L1395.70,120.15 L1396.10,121.07 L1396.50,122.00 L1396.90,122.95 L1397.30,123.93 L1397.70,124.93 L1398.10,125.94 L1398.50,126.99 L1398.90,128.06 L1399.30,129.15 L1399.70,130.27 L1400.10,131.43 L1400.50,132.61 L1400.90,133.83 L1401.30,135.08 L1401.70,136.36 L1402.10,137.69 L1402.50,139.05 L1402.90,140.46 L1403.05,141.00 L1403.20,141.55 L1403.35,142.10 L1403.50,142.66 L1403.65,143.23 L1403.80,143.80 L1403.95,144.38 L1404.10,144.97 L1404.25,145.57 L1404.40,146.17 L1404.55,146.79 L1404.70,147.41 L1404.85,148.04 L1405.00,148.68 L1405.15,149.33 L1405.30,149.98 L1405.45,150.65 L1405.60,151.33 L1405.75,152.02 L1405.90,152.72 L1406.05,153.42 L1406.20,154.15 L1406.35,154.88 L1406.50,155.62 L1406.65,156.38 L1406.80,157.15 L1406.95,157.93 L1407.10,158.72 L1407.25,159.53 L1407.40,160.36 L1407.55,161.19 L1407.70,162.05 L1407.85,162.92 L1408.00,163.81 L1408.15,164.71 L1408.30,165.63 L1408.45,166.58 L1408.60,167.54 L1408.75,168.52 L1408.90,169.52 L1409.05,170.54 L1409.20,171.59 L1409.35,172.66 L1409.50,173.75 L1409.65,174.88 L1409.80,176.02 L1409.95,177.20 L1410.10,178.40 L1410.25,179.64 L1410.40,180.91 L1410.55,182.21 L1410.70,183.54 L1410.85,184.92 L1411.00,186.33 L1411.15,187.78 L1411.30,189.28 L1411.45,190.82 L1411.60,192.41 L1411.75,194.05 L1411.90,195.74 L1411.95,196.32 L1412.00,196.90 L1412.05,197.49 L1412.10,198.09 L1412.15,198.69 L1412.20,199.30 L1412.25,199.92 L1412.30,200.55 L1412.35,201.18 L1412.40,201.82 L1412.45,202.47 L1412.50,203.12 L1412.55,203.79 L1412.60,204.46 L1412.65,205.14 L1412.70,205.83 L1412.75,206.53 L1412.80,207.24 L1412.85,207.96 L1412.90,208.69 L1412.95,209.43 L1413.00,210.17 L1413.05,210.93 L1413.10,211.70 L1413.15,212.48 L1413.20,213.27 L1413.25,214.08 L1413.30,214.89 L1413.35,215.72 L1413.40,216.56 L1413.45,217.41 L1413.50,218.28 L1413.55,219.16 L1413.60,220.05 L1413.65,220.96 L1413.70,221.89 L1413.75,222.83 L1413.80,223.78 L1413.85,224.76 L1413.90,225.75 L1413.95,226.75 L1414.00,227.78 L1414.05,228.83 L1414.10,229.89 L1414.15,230.98 L1414.20,232.08 L1414.25,233.21 L1414.30,234.36 L1414.35,235.54 L1414.40,236.74 L1414.45,237.96 L1414.50,239.21 L1414.55,240.49 L1414.60,241.80 L1414.65,243.14 L1414.70,244.51 L1414.75,245.92 L1414.80,247.35 L1414.85,248.83 L1414.90,250.34 L1414.95,248.91 L1415.00,247.54 L1415.05,246.21 L1415.10,244.91 L1415.15,243.64 L1415.20,242.40 L1415.25,241.19 L1415.30,240.01 L1415.35,238.85 L1415.40,237.72 L1415.45,236.61 L1415.50,235.52 L1415.55,234.46 L1415.60,233.42 L1415.65,232.39 L1415.70,231.39 L1415.75,230.41 L1415.80,229.44 L1415.85,228.49 L1415.90,227.56 L1415.95,226.64 L1416.00,225.74 L1416.05,224.86 L1416.10,223.99 L1416.15,223.13 L1416.20,222.29 L1416.25,221.46 L1416.30,220.64 L1416.35,219.84 L1416.40,219.05 L1416.45,218.27 L1416.50,217.50 L1416.55,216.75 L1416.60,216.00 L1416.65,215.27 L1416.70,214.54 L1416.75,213.83 L1416.80,213.12 L1416.85,212.43 L1416.90,211.74 L1416.95,211.07 L1417.00,210.40 L1417.05,209.74 L1417.10,209.09 L1417.15,208.45 L1417.20,207.81 L1417.25,207.18 L1417.30,206.56 L1417.35,205.95 L1417.40,205.35 L1417.45,204.75 L1417.50,204.16 L1417.55,203.57 L1417.60,203.00 L1417.65,202.43 L1417.70,201.86 L1417.75,201.30 L1417.80,200.75 L1417.85,200.20 L1417.90,199.66 L1418.05,198.08 L1418.20,196.54 L1418.35,195.04 L1418.50,193.59 L1418.65,192.19 L1418.80,190.82 L1418.95,189.48 L1419.10,188.18 L1419.25,186.92 L1419.40,185.69 L1419.55,184.48 L1419.70,183.31 L1419.85,182.16 L1420.00,181.04 L1420.15,179.95 L1420.30,178.88 L1420.45,177.83 L1420.60,176.81 L1420.75,175.80 L1420.90,174.82 L1421.05,173.86 L1421.20,172.91 L1421.35,171.99 L1421.50,171.08 L1421.65,170.19 L1421.80,169.32 L1421.95,168.46 L1422.10,167.62 L1422.25,166.79 L1422.40,165.98 L1422.55,165.18 L1422.70,164.39 L1422.85,163.62 L1423.00,162.86 L1423.15,162.12 L1423.30,161.38 L1423.45,160.66 L1423.60,159.95 L1423.75,159.24 L1423.90,158.55 L1424.05,157.87 L1424.20,157.20 L1424.35,156.54 L1424.50,155.89 L1424.65,155.25 L1424.80,154.62 L1424.95,154.00 L1425.10,153.38 L1425.25,152.78 L1425.40,152.18 L1425.55,151.59 L1425.70,151.01 L1425.85,150.43 L1426.00,149.87 L1426.15,149.31 L1426.30,148.75 L1426.45,148.21 L1426.60,147.67 L1426.75,147.14 L1426.90,146.61 L1427.30,145.24 L1427.70,143.91 L1428.10,142.63 L1428.50,141.38 L1428.90,140.16 L1429.30,138.98 L1429.70,137.84 L1430.10,136.72 L1430.50,135.64 L1430.90,134.58 L1431.30,133.55 L1431.70,132.55 L1432.10,131.57 L1432.50,130.61 L1432.90,129.68 L1433.30,128.76 L1433.70,127.87 L1434.10,127.00 L1434.50,126.15 L1434.90,125.32 L1435.30,124.50 L1435.70,123.70 L1436.10,122.92 L1436.50,122.16 L1436.90,121.41 L1437.30,120.67 L1437.70,119.95 L1438.10,119.24 L1438.50,118.55 L1438.90,117.87 L1439.30,117.20 L1439.70,116.55 L1440.10,115.90 L1440.50,115.27 L1440.90,114.65 L1441.30,114.04 L1441.70,113.44 L1442.10,112.85 L1442.50,112.27 L1442.90,111.70 L1443.30,111.14 L1443.70,110.59 L1444.10,110.04 L1444.50,109.51 L1444.90,108.98 L1445.30,108.46 L1445.70,107.95 L1446.10,107.45 L1446.50,106.96 L1446.90,106.47 L1447.30,105.99 L1447.70,105.52 L1448.10,105.05 L1448.50,104.59 L1448.90,104.14 L1449.30,103.69 L1449.70,103.25 L1450.10,102.81 L1450.50,102.39 L1450.90,101.96 L1451.30,101.55 L1451.70,101.13 L1452.10,100.73 L1452.50,100.33 L1452.90,99.93 L1453.30,99.54 L1453.70,99.16 L1454.10,98.78 L1454.50,98.40 L1454.90,98.03 L1455.90,97.12 L1456.90,96.24 L1457.90,95.38 L1458.90,94.55 L1459.90,93.75 L1460.90,92.96 L1461.90,92.20 L1462.90,91.46 L1463.90,90.74 L1464.90,90.03 L1465.90,89.35 L1466.90,88.68 L1467.90,88.03 L1468.90,87.39 L1469.90,86.77 L1470.90,86.17 L1471.90,85.58 L1472.90,85.00 L1473.90,84.44 L1474.90,83.89 L1475.90,83.35 L1476.90,82.83 L1477.90,82.31 L1478.90,81.81 L1479.90,81.32 L1480.90,80.83 L1481.90,80.36 L1482.90,79.90 L1483.90,79.45 L1484.90,79.00 L1485.90,78.57 L1486.90,78.14 L1487.90,77.73 L1488.90,77.32 L1489.90,76.92 L1490.90,76.52 L1491.90,76.14 L1492.90,75.76 L1493.90,75.39 L1494.90,75.02 L1495.90,74.66 L1496.90,74.31 L1497.90,73.97 L1498.90,73.63 L1499.90,73.29 L1500.90,72.97 L1501.90,72.65 L1502.90,72.33 L1503.90,72.02 L1504.90,71.72 L1505.90,71.42 L1506.90,71.12 L1507.90,70.83 L1508.90,70.55 L1509.90,70.27 L1510.90,69.99 L1511.90,69.72 L1512.90,69.45 L1513.90,69.19 L1514.90,68.93 L1515.90,68.68 L1516.90,68.43 L1517.90,68.18 L1518.90,67.94 L1519.90,67.70 L1520.90,67.46 L1521.90,67.23 L1522.90,67.01 L1523.90,66.78 L1524.90,66.56 L1525.90,66.34 L1526.90,66.13 L1527.90,65.92 L1528.90,65.71 L1529.90,65.50 L1530.90,65.30 L1531.90,65.10 L1532.90,64.91 L1533.90,64.71 L1534.90,64.52 L1535.90,64.34 L1536.90,64.15 L1537.90,63.97 L1538.90,63.79 L1539.90,63.61 L1540.90,63.44 L1541.90,63.26 L1542.90,63.09 L1543.90,62.93 L1544.90,62.76 L1545.90,62.60 L1546.90,62.44 L1547.90,62.28 L1548.90,62.12 L1549.90,61.97 L1550.90,61.82 L1551.90,61.67 L1552.90,61.52 L1553.90,61.37 L1554.90,61.23 L1555.90,61.09 L1556.90,60.95 L1557.90,60.81 L1558.90,60.67 L1559.90,60.54 L1560.90,60.40 L1561.90,60.27 L1562.90,60.14 L1563.90,60.02 L1564.90,59.89 L1565.90,59.76 L1566.90,59.64 L1567.90,59.52 L1568.90,59.40 L1569.90,59.28 L1570.90,59.17 L1571.90,59.05 L1572.90,58.94 L1573.90,58.82 L1574.90,58.71 L1575.90,58.60 L1576.90,58.50 L1577.90,58.39 L1578.90,58.28 L1579.90,58.18 L1580.90,58.08 L1581.90,57.98 L1582.90,57.88 L1583.90,57.78 L1584.90,57.68 L1585.90,57.58 L1586.90,57.49 L1587.90,57.40 L1588.90,57.30 L1589.30,57.27" stroke="#ff00ff"/>
<path d="M914.80,26.47 L915.00,26.47 L916.00,26.47 L917.00,26.47 L918.00,26.47 L919.00,26.47 L920.00,26.47 L921.00,26.47 L922.00,26.47 L923.00,26.47 L924.00,26.47 L925.00,26.47 L926.00,26.47 L927.00,26.47 L928.00,26.47 L929.00,26.47 L930.00,26.47 L931.00,26.47 L932.00,26.47 L933.00,26.47 L934.00,26.47 L935.00,26.47 L936.00,26.47 L937.00,26.47 L938.00,26.47 L939.00,26.47 L940.00,26.47 L941.00,26.47 L942.00,26.47 L943.00,26.47 L944.00,26.47 L945.00,26.47 L946.00,26.47 L947.00,26.47 L948.00,26.47 L949.00,26.47 L950.00,26.47 L951.00,26.47 L952.00,26.47 L953.00,26.47 L954.00,26.47 L955.00,26.47 L956.00,26.47 L957.00,26.47 L958.00,26.47 L959.00,26.47 L960.00,26.47 L961.00,26.47 L962.00,26.47 L963.00,26.47 L964.00,26.47 L965.00,26.47 L966.00,26.47 L967.00,26.47 L968.00,26.47 L969.00,26.47 L970.00,26.47 L971.00,26.47 L972.00,26.47 L973.00,26.47 L974.00,26.47 L975.00,26.47 L976.00,26.47 L977.00,26.47 L978.00,26.47 L979.00,26.47 L980.00,26.47 L981.00,26.47 L982.00,26.47 L983.00,26.47 L984.00,26.47 L985.00,26.47 L986.00,26.47 L987.00,26.47 L988.00,26.47 L989.00,26.47 L990.00,26.47 L991.00,26.47 L992.00,26.47 L993.00,26.47 L994.00,26.47 L995.00,26.47 L996.00,26.47 L997.00,26.47 L998.00,26.47 L999.00,26.47 L1000.00,26.47 L1001.00,26.47 L1002.00,26.47 L1003.00,26.47 L1004.00,26.47 L1005.00,26.47 L1006.00,26.47 L1007.00,26.47 L1008.00,26.47 L1009.00,26.47 L1010.00,26.47 L1011.00,26.47 L1012.00,26.47 L1013.00,26.47 L1014.00,26.47 L1015.00,26.47 L1016.00,26.47 L1017.00,26.47 L1018.00,26.47 L1019.00,26.47 L1020.00,26.47 L1021.00,26.47 L1022.00,26.47 L1023.00,26.47 L1024.00,26.47 L1025.00,26.47 L1026.00,26.47 L1027.00,26.47 L1028.00,26.47 L1029.00,26.47 L1030.00,26.47 L1031.00,26.47 L1032.00,26.47 L1033.00,26.47 L1034.00,26.47 L1035.00,26.47 L1036.00,26.47 L1037.00,26.47 L1038.00,26.47 L1039.00,26.47 L1040.00,26.47 L1041.00,26.47 L1042.00,26.47 L1043.00,26.47 L1044.00,26.47 L1045.00,26.47 L1046.00,26.47 L1047.00,26.47 L1048.00,26.47 L1049.00,26.47 L1050.00,26.47 L1051.00,26.47 L1052.00,26.47 L1053.00,26.47 L1054.00,26.47 L1055.00,26.47 L1056.00,26.47 L1057.00,26.47 L1058.00,26.47 L1059.00,26.47 L1060.00,26.47 L1061.00,26.47 L1062.00,26.47 L1063.00,26.47 L1064.00,26.47 L1065.00,26.47 L1066.00,26.47 L1067.00,26.47 L1068.00,26.47 L1069.00,26.47 L1070.00,26.47 L1071.00,26.47 L1072.00,26.47 L1073.00,26.47 L1074.00,26.47 L1075.00,26.47 L1076.00,26.47 L1077.00,26.47 L1078.00,26.47 L1079.00,26.47 L1080.00,26.47 L1081.00,26.47 L1082.00,26.47 L1083.00,26.47 L1084.00,26.47 L1085.00,26.47 L1086.00,26.47 L1087.00,26.47 L1088.00,26.47 L1089.00,26.47 L1090.00,26.47 L1091.00,26.47 L1092.00,26.47 L1093.00,26.47 L1094.00,26.47 L1095.00,26.47 L1096.00,26.47 L1097.00,26.47 L1098.00,26.47 L1099.00,26.47 L1100.00,26.47 L1101.00,26.47 L1102.00,26.47 L1103.00,26.47 L1104.00,26.47 L1105.00,26.47 L1106.00,26.47 L1107.00,26.47 L1108.00,26.47 L1109.00,26.47 L1110.00,26.47 L1111.00,26.47 L1112.00,26.47 L1113.00,26.47 L1114.00,26.47 L1115.00,26.47 L1116.00,26.47 L1117.00,26.47 L1118.00,26.47 L1119.00,26.47 L1120.00,26.47 L1121.00,26.47 L1122.00,26.47 L1123.00,26.47 L1124.00,26.47 L1125.00,26.47 L1126.00,26.47 L1127.00,26.47 L1128.00,26.47 L1129.00,26.47 L1130.00,26.47 L1131.00,26.47 L1132.00,26.47 L1133.00,26.47 L1134.00,26.47 L1135.00,26.47 L1136.00,26.47 L1137.00,26.47 L1138.00,26.47 L1139.00,26.47 L1140.00,26.47 L1141.00,26.47 L1142.00,26.47 L1143.00,26.47 L1144.00,26.47 L1145.00,26.47 L1146.00,26.47 L1147.00,26.47 L1148.00,26.47 L1149.00,26.47 L1150.00,26.47 L1151.00,26.47 L1152.00,26.47 L1153.00,26.47 L1154.00,26.47 L1155.00,26.47 L1156.00,26.47 L1157.00,26.47 L1158.00,26.47 L1159.00,26.47 L1160.00,26.47 L1161.00,26.47 L1162.00,26.47 L1163.00,26.47 L1164.00,26.47 L1165.00,26.47 L1166.00,26.47 L1167.00,26.47 L1168.00,26.47 L1169.00,26.47 L1170.00,26.47 L1171.00,26.47 L1172.00,26.47 L1173.00,26.47 L1174.00,26.47 L1175.00,26.47 L1176.00,26.47 L1177.00,26.47 L1178.00,26.47 L1179.00,26.47 L1180.00,26.47 L1181.00,26.47 L1182.00,26.47 L1183.00,26.47 L1184.00,26.47 L1185.00,26.47 L1186.00,26.47 L1187.00,26.47 L1188.00,26.47 L1189.00,26.47 L1190.00,26.47 L1191.00,26.47 L1192.00,26.47 L1193.00,26.47 L1194.00,26.47 L1195.00,26.47 L1196.00,26.47 L1197.00,26.47 L1198.00,26.47 L1199.00,26.47 L1200.00,26.47 L1201.00,26.47 L1202.00,26.47 L1203.00,26.47 L1204.00,26.47 L1205.00,26.47 L1206.00,26.47 L1207.00,26.47 L1208.00,26.47 L1209.00,26.47 L1210.00,26.47 L1211.00,26.47 L1212.00,26.47 L1213.00,26.47 L1214.00,26.47 L1215.00,26.47 L1216.00,26.47 L1217.00,26.47 L1218.00,26.47 L1219.00,26.47 L1220.00,26.47 L1221.00,26.47 L1222.00,26.47 L1223.00,26.47 L1224.00,26.47 L1225.00,26.47 L1226.00,26.47 L1227.00,26.47 L1228.00,26.47 L1229.00,26.47 L1230.00,26.47 L1231.00,26.47 L1232.00,26.47 L1233.00,26.47 L1234.00,26.47 L1235.00,26.47 L1236.00,26.47 L1237.00,26.47 L1238.00,26.47 L1239.00,26.47 L1240.00,26.47 L1241.00,26.47 L1242.00,26.47 L1243.00,26.47 L1244.00,26.47 L1245.00,26.47 L1246.00,26.47 L1247.00,26.47 L1248.00,26.47 L1249.00,26.47 L1250.00,26.47 L1251.00,26.47 L1252.00,26.47 L1253.00,26.47 L1254.00,26.47 L1255.00,26.47 L1256.00,26.47 L1257.00,26.47 L1258.00,26.47 L1259.00,26.47 L1260.00,26.47 L1261.00,26.47 L1262.00,26.47 L1263.00,26.47 L1264.00,26.47 L1265.00,26.47 L1266.00,26.47 L1267.00,26.47 L1268.00,26.47 L1269.00,26.47 L1270.00,26.47 L1271.00,26.47 L1272.00,26.47 L1273.00,26.47 L1274.00,26.47 L1275.00,26.47 L1276.00,26.47 L1277.00,26.47 L1278.00,26.47 L1279.00,26.47 L1280.00,26.47 L1281.00,26.47 L1282.00,26.47 L1283.00,26.47 L1284.00,26.47 L1285.00,26.47 L1286.00,26.47 L1287.00,26.47 L1288.00,26.47 L1289.00,26.47 L1290.00,26.47 L1291.00,26.47 L1292.00,26.47 L1293.00,26.47 L1294.00,26.47 L1295.00,26.47 L1296.00,26.47 L1297.00,26.47 L1298.00,26.47 L1299.00,26.47 L1300.00,26.47 L1301.00,26.47 L1302.00,26.50 L1303.00,26.54 L1304.00,26.57 L1305.00,26.61 L1306.00,26.65 L1307.00,26.70 L1308.00,26.74 L1309.00,26.79 L1310.00,26.83 L1311.00,26.88 L1312.00,26.93 L1313.00,26.98 L1314.00,27.03 L1315.00,27.09 L1316.00,27.14 L1317.00,27.20 L1318.00,27.26 L1319.00,27.32 L1320.00,27.38 L1321.00,27.44 L1322.00,27.50 L1323.00,27.57 L1324.00,27.64 L1325.00,27.71 L1326.00,27.78 L1327.00,27.85 L1328.00,27.92 L1329.00,28.00 L1330.00,28.08 L1331.00,28.16 L1332.00,28.24 L1333.00,28.32 L1334.00,28.40 L1335.00,28.49 L1336.00,28.58 L1337.00,28.67 L1338.00,28.76 L1339.00,28.85 L1340.00,28.95 L1341.00,29.04 L1342.00,29.14 L1343.00,29.24 L1344.00,29.35 L1345.00,29.45 L1346.00,29.56 L1347.00,29.67 L1348.00,29.78 L1349.00,29.89 L1350.00,30.01 L1351.00,30.13 L1352.00,30.25 L1353.00,30.37 L1354.00,30.49 L1355.00,30.62 L1356.00,30.75 L1357.00,30.88 L1358.00,31.01 L1359.00,31.15 L1360.00,31.29 L1361.00,31.43 L1362.00,31.57 L1363.00,31.71 L1364.00,31.86 L1365.00,32.01 L1366.00,32.17 L1367.00,32.32 L1368.00,32.48 L1369.00,32.64 L1370.00,32.80 L1371.00,32.97 L1372.00,33.14 L1373.00,33.31 L1374.00,33.48 L1375.00,33.66 L1376.00,33.84 L1377.00,34.03 L1378.00,34.21 L1379.00,34.40 L1380.00,34.59 L1381.00,34.79 L1382.00,34.99 L1383.00,35.19 L1384.00,35.40 L1385.00,35.60 L1386.00,35.82 L1387.00,36.03 L1388.00,36.25 L1389.00,36.47 L1390.00,36.70 L1391.00,36.92 L1392.00,37.16 L1393.00,37.39 L1394.00,37.63 L1395.00,37.88 L1396.00,38.12 L1397.00,38.38 L1398.00,38.63 L1399.00,38.89 L1400.00,39.15 L1401.00,39.42 L1402.00,39.69 L1403.00,39.97 L1404.00,40.25 L1405.00,40.53 L1406.00,40.82 L1407.00,41.11 L1408.00,41.41 L1409.00,41.71 L1410.00,42.02 L1411.00,42.33 L1412.00,42.65 L1413.00,42.97 L1414.00,43.30 L1415.00,43.63 L1416.00,43.97 L1417.00,44.31 L1418.00,44.66 L1419.00,45.01 L1420.00,45.37 L1421.00,45.73 L1422.00,46.10 L1423.00,46.47 L1424.00,46.85 L1425.00,47.24 L1426.00,47.63 L1427.00,48.03 L1428.00,48.44 L1429.00,48.85 L1430.00,49.27 L1431.00,49.69 L1432.00,50.12 L1433.00,50.56 L1434.00,51.01 L1435.00,51.46 L1436.00,51.92 L1437.00,52.38 L1438.00,52.86 L1439.00,53.34 L1440.00,53.83 L1441.00,54.33 L1442.00,54.83 L1443.00,55.34 L1444.00,55.87 L1445.00,56.40 L1446.00,56.93 L1447.00,57.48 L1448.00,58.04 L1449.00,58.60 L1450.00,59.18 L1451.00,59.76 L1452.00,60.36 L1453.00,60.96 L1454.00,61.57 L1455.00,62.20 L1456.00,62.83 L1457.00,63.47 L1458.00,64.13 L1459.00,64.80 L1460.00,65.47 L1461.00,66.16 L1462.00,66.86 L1463.00,67.58 L1464.00,68.30 L1465.00,69.04 L1466.00,69.79 L1467.00,70.55 L1468.00,71.33 L1469.00,72.12 L1470.00,72.92 L1471.00,73.74 L1472.00,74.57 L1473.00,75.42 L1474.00,76.28 L1475.00,77.16 L1476.00,78.05 L1477.00,78.96 L1478.00,79.88 L1479.00,80.82 L1480.00,81.78 L1481.00,82.76 L1482.00,83.76 L1483.00,84.78 L1484.00,85.82 L1485.00,86.88 L1486.00,87.97 L1487.00,89.08 L1488.00,90.21 L1488.40,90.68 L1488.80,91.14 L1489.20,91.61 L1489.60,92.09 L1490.00,92.57 L1490.40,93.05 L1490.80,93.54 L1491.20,94.04 L1491.60,94.54 L1492.00,95.04 L1492.40,95.56 L1492.80,96.07 L1493.20,96.59 L1493.60,97.12 L1494.00,97.65 L1494.40,98.19 L1494.80,98.74 L1495.20,99.29 L1495.60,99.85 L1496.00,100.41 L1496.40,100.98 L1496.80,101.56 L1497.20,102.15 L1497.60,102.74 L1498.00,103.34 L1498.40,103.95 L1498.80,104.56 L1499.20,105.19 L1499.60,105.82 L1500.00,106.46 L1500.40,107.11 L1500.80,107.77 L1501.20,108.44 L1501.60,109.12 L1502.00,109.80 L1502.40,110.50 L1502.80,111.21 L1503.20,111.93 L1503.60,112.66 L1504.00,113.40 L1504.40,114.15 L1504.80,114.92 L1505.20,115.70 L1505.60,116.49 L1506.00,117.30 L1506.40,118.12 L1506.80,118.95 L1507.20,119.81 L1507.60,120.67 L1508.00,121.55 L1508.40,122.45 L1508.80,123.37 L1509.20,124.31 L1509.60,125.27 L1510.00,126.24 L1510.40,127.24 L1510.80,128.26 L1511.20,129.30 L1511.60,130.37 L1512.00,131.46 L1512.40,132.58 L1512.80,133.73 L1513.20,134.90 L1513.60,136.11 L1514.00,137.35 L1514.40,138.63 L1514.80,139.94 L1515.20,141.29 L1515.60,142.68 L1516.00,144.12 L1516.15,144.67 L1516.30,145.22 L1516.45,145.79 L1516.60,146.36 L1516.75,146.93 L1516.90,147.52 L1517.05,148.11 L1517.20,148.71 L1517.35,149.32 L1517.50,149.94 L1517.65,150.56 L1517.80,151.20 L1517.95,151.84 L1518.10,152.49 L1518.25,153.15 L1518.40,153.83 L1518.55,154.51 L1518.70,155.20 L1518.85,155.90 L1519.00,156.61 L1519.15,157.34 L1519.30,158.07 L1519.45,158.82 L1519.60,159.58 L1519.75,160.35 L1519.90,161.14 L1520.05,161.94 L1520.20,162.75 L1520.35,163.58 L1520.50,164.42 L1520.65,165.28 L1520.80,166.15 L1520.95,167.04 L1521.10,167.95 L1521.25,168.87 L1521.40,169.81 L1521.55,170.76 L1521.70,171.74 L1521.85,172.73 L1522.00,173.74 L1522.15,174.77 L1522.30,175.82 L1522.45,176.89 L1522.60,177.98 L1522.75,179.09 L1522.90,180.23 L1523.05,181.38 L1523.20,182.56 L1523.35,183.77 L1523.50,184.99 L1523.65,186.25 L1523.80,187.52 L1523.95,188.83 L1524.10,190.16 L1524.25,191.52 L1524.40,192.90 L1524.55,194.32 L1524.70,195.76 L1524.85,197.23 L1525.00,198.73 L1525.05,199.24 L1525.10,199.75 L1525.15,200.27 L1525.20,200.78 L1525.25,201.30 L1525.30,201.83 L1525.35,202.35 L1525.40,202.88 L1525.45,203.42 L1525.50,203.95 L1525.55,204.49 L1525.60,205.04 L1525.65,205.58 L1525.70,206.13 L1525.75,206.69 L1525.80,207.24 L1525.85,207.80 L1525.90,208.36 L1525.95,208.93 L1526.00,209.49 L1526.05,210.06 L1526.10,210.63 L1526.15,211.21 L1526.20,211.79 L1526.25,212.37 L1526.30,212.95 L1526.35,213.53 L1526.40,214.12 L1526.45,214.70 L1526.50,215.29 L1526.55,215.88 L1526.60,216.47 L1526.65,217.06 L1526.70,217.65 L1526.75,218.24 L1526.80,218.83 L1526.85,219.42 L1526.90,220.01 L1526.95,220.59 L1527.00,221.17 L1527.05,221.75 L1527.10,222.33 L1527.15,222.90 L1527.20,223.47 L1527.25,224.02 L1527.30,224.57 L1527.35,225.12 L1527.40,225.65 L1527.45,226.17 L1527.50,226.68 L1527.55,227.17 L1527.60,227.64 L1527.65,228.10 L1527.70,228.53 L1527.75,228.94 L1527.80,229.32 L1527.85,229.67 L1527.90,229.98 L1527.95,230.25 L1528.00,230.43 L1528.05,230.29 L1528.10,230.07 L1528.15,229.82 L1528.20,229.52 L1528.25,229.20 L1528.30,228.84 L1528.35,228.47 L1528.40,228.06 L1528.45,227.64 L1528.50,227.21 L1528.55,226.75 L1528.60,226.28 L1528.65,225.81 L1528.70,225.32 L1528.75,224.82 L1528.80,224.31 L1528.85,223.79 L1528.90,223.27 L1528.95,222.75 L1529.00,222.22 L1529.05,221.68 L1529.10,221.15 L1529.15,220.61 L1529.20,220.06 L1529.25,219.52 L1529.30,218.98 L1529.35,218.43 L1529.40,217.89 L1529.45,217.34 L1529.50,216.80 L1529.55,216.25 L1529.60,215.71 L1529.65,215.16 L1529.70,214.62 L1529.75,214.08 L1529.80,213.54 L1529.85,213.01 L1529.90,212.47 L1529.95,211.94 L1530.00,211.41 L1530.05,210.88 L1530.10,210.35 L1530.15,209.83 L1530.20,209.31 L1530.25,208.79 L1530.30,208.27 L1530.35,207.76 L1530.40,207.25 L1530.45,206.74 L1530.50,206.23 L1530.55,205.73 L1530.60,205.23 L1530.65,204.73 L1530.70,204.24 L1530.75,203.75 L1530.80,203.26 L1530.85,202.77 L1530.90,202.29 L1530.95,201.81 L1531.00,201.34 L1531.15,199.92 L1531.30,198.54 L1531.45,197.18 L1531.60,195.85 L1531.75,194.54 L1531.90,193.26 L1532.05,192.00 L1532.20,190.76 L1532.35,189.55 L1532.50,188.37 L1532.65,187.21 L1532.80,186.06 L1532.95,184.94 L1533.10,183.85 L1533.25,182.77 L1533.40,181.71 L1533.55,180.67 L1533.70,179.66 L1533.85,178.66 L1534.00,177.68 L1534.15,176.71 L1534.30,175.77 L1534.45,174.84 L1534.60,173.93 L1534.75,173.03 L1534.90,172.15 L1535.05,171.28 L1535.20,170.43 L1535.35,169.60 L1535.50,168.78 L1535.65,167.97 L1535.80,167.18 L1535.95,166.40 L1536.10,165.63 L1536.25,164.87 L1536.40,164.13 L1536.55,163.40 L1536.70,162.68 L1536.85,161.98 L1537.00,161.28 L1537.15,160.60 L1537.30,159.92 L1537.45,159.26 L1537.60,158.61 L1537.75,157.96 L1537.90,157.33 L1538.05,156.70 L1538.20,156.09 L1538.35,155.48 L1538.50,154.88 L1538.65,154.29 L1538.80,153.71 L1538.95,153.14 L1539.10,152.57 L1539.25,152.01 L1539.40,151.46 L1539.55,150.92 L1539.70,150.38 L1539.85,149.85 L1540.00,149.33 L1540.40,147.97 L1540.80,146.65 L1541.20,145.37 L1541.60,144.14 L1542.00,142.93 L1542.40,141.77 L1542.80,140.64 L1543.20,139.54 L1543.60,138.47 L1544.00,137.43 L1544.40,136.42 L1544.80,135.43 L1545.20,134.47 L1545.60,133.53 L1546.00,132.62 L1546.40,131.72 L1546.80,130.85 L1547.20,130.00 L1547.60,129.17 L1548.00,128.35 L1548.40,127.56 L1548.80,126.78 L1549.20,126.02 L1549.60,125.27 L1550.00,124.54 L1550.40,123.83 L1550.80,123.13 L1551.20,122.44 L1551.60,121.77 L1552.00,121.11 L1552.40,120.46 L1552.80,119.82 L1553.20,119.20 L1553.60,118.58 L1554.00,117.98 L1554.40,117.39 L1554.80,116.81 L1555.20,116.24 L1555.60,115.68 L1556.00,115.13 L1556.40,114.59 L1556.80,114.05 L1557.20,113.53 L1557.60,113.01 L1558.00,112.50 L1558.40,112.00 L1558.80,111.51 L1559.20,111.03 L1559.60,110.55 L1560.00,110.08 L1560.40,109.62 L1560.80,109.16 L1561.20,108.71 L1561.60,108.27 L1562.00,107.84 L1562.40,107.41 L1562.80,106.98 L1563.20,106.56 L1563.60,106.15 L1564.00,105.75 L1564.40,105.34 L1564.80,104.95 L1565.20,104.56 L1565.60,104.17 L1566.00,103.79 L1566.40,103.42 L1566.80,103.05 L1567.20,102.68 L1567.60,102.32 L1568.00,101.97 L1569.00,101.10 L1570.00,100.25 L1571.00,99.43 L1572.00,98.64 L1573.00,97.86 L1574.00,97.11 L1575.00,96.38 L1576.00,95.67 L1577.00,94.98 L1578.00,94.31 L1579.00,93.65 L1580.00,93.02 L1581.00,92.39 L1582.00,91.79 L1583.00,91.19 L1584.00,90.62 L1585.00,90.05 L1586.00,89.50 L1587.00,88.96 L1588.00,88.44 L1589.00,87.92 L1589.30,87.77" stroke="#c0c0c0"/>
</g></g>
<rect x="1097.85" y="251.65" width="398.35" height="314.90" fill="none" stroke="#000" stroke-width="3.4"/>
</svg>
</body></html>
